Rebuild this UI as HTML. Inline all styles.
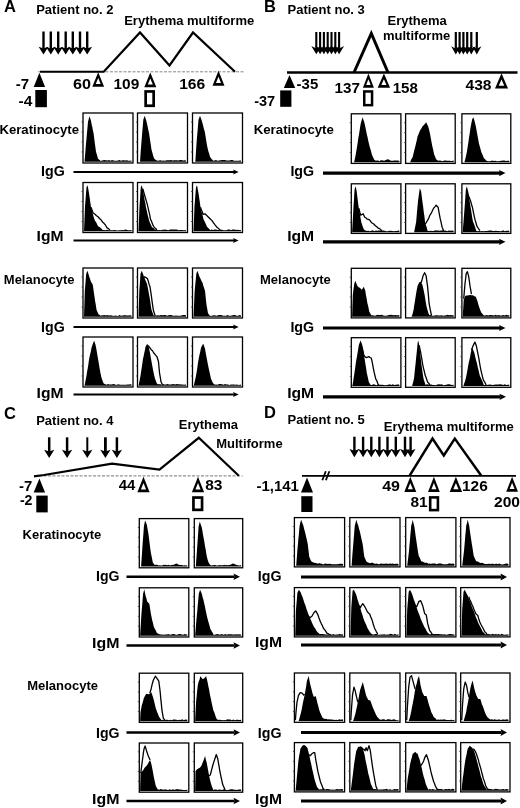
<!DOCTYPE html>
<html lang="en"><head><meta charset="utf-8"><title>Figure</title>
<style>html,body{margin:0;padding:0;background:#fff}svg{display:block}</style></head>
<body>
<svg width="520" height="808" viewBox="0 0 520 808" font-family='&quot;Liberation Sans&quot;, Arial, Helvetica, sans-serif' fill="#000">
<rect x="0" y="0" width="520" height="808" fill="#fff"/>
<text x="4.00" y="12.30" font-size="16.5" font-weight="bold" text-anchor="start">A</text>
<text x="36.20" y="13.80" font-size="13" font-weight="bold" text-anchor="start">Patient no. 2</text>
<text x="124.20" y="24.60" font-size="13" font-weight="bold" text-anchor="start">Erythema multiforme</text>
<line x1="43.50" y1="31.50" x2="43.50" y2="49.50" stroke="#000" stroke-width="2.4"/>
<polygon points="43.50,54.40 38.60,46.80 43.50,48.50 48.40,46.80" fill="#000" stroke="none" stroke-width="0" stroke-linejoin="miter"/>
<line x1="50.80" y1="31.50" x2="50.80" y2="49.50" stroke="#000" stroke-width="2.4"/>
<polygon points="50.80,54.40 45.90,46.80 50.80,48.50 55.70,46.80" fill="#000" stroke="none" stroke-width="0" stroke-linejoin="miter"/>
<line x1="58.20" y1="31.50" x2="58.20" y2="49.50" stroke="#000" stroke-width="2.4"/>
<polygon points="58.20,54.40 53.30,46.80 58.20,48.50 63.10,46.80" fill="#000" stroke="none" stroke-width="0" stroke-linejoin="miter"/>
<line x1="65.70" y1="31.50" x2="65.70" y2="49.50" stroke="#000" stroke-width="2.4"/>
<polygon points="65.70,54.40 60.80,46.80 65.70,48.50 70.60,46.80" fill="#000" stroke="none" stroke-width="0" stroke-linejoin="miter"/>
<line x1="72.80" y1="31.50" x2="72.80" y2="49.50" stroke="#000" stroke-width="2.4"/>
<polygon points="72.80,54.40 67.90,46.80 72.80,48.50 77.70,46.80" fill="#000" stroke="none" stroke-width="0" stroke-linejoin="miter"/>
<line x1="80.00" y1="31.50" x2="80.00" y2="49.50" stroke="#000" stroke-width="2.4"/>
<polygon points="80.00,54.40 75.10,46.80 80.00,48.50 84.90,46.80" fill="#000" stroke="none" stroke-width="0" stroke-linejoin="miter"/>
<line x1="87.20" y1="31.50" x2="87.20" y2="49.50" stroke="#000" stroke-width="2.4"/>
<polygon points="87.20,54.40 82.30,46.80 87.20,48.50 92.10,46.80" fill="#000" stroke="none" stroke-width="0" stroke-linejoin="miter"/>
<line x1="38.00" y1="71.80" x2="245.00" y2="71.80" stroke="#888" stroke-width="1" stroke-dasharray="3 1.5"/>
<polyline points="40.00,71.75 103.75,71.75 140.00,32.50 169.50,65.50 193.00,32.50 235.00,71.75" fill="none" stroke="#000" stroke-width="2.2" stroke-linejoin="miter"/>
<polygon points="39.40,72.80 33.70,87.00 45.10,87.00" fill="#000" stroke="none" stroke-width="0" stroke-linejoin="miter"/>
<rect x="35.30" y="90.00" width="11.60" height="17.20" fill="#000" stroke="none" stroke-width="0"/>
<text x="15.80" y="88.60" font-size="14" font-weight="bold" text-anchor="start" textLength="13.30" lengthAdjust="spacingAndGlyphs">-7</text>
<text x="18.60" y="105.90" font-size="14" font-weight="bold" text-anchor="start" textLength="13.80" lengthAdjust="spacingAndGlyphs">-4</text>
<text x="73.00" y="88.60" font-size="14" font-weight="bold" text-anchor="start" textLength="18.00" lengthAdjust="spacingAndGlyphs">60</text>
<polygon points="98.20,72.30 92.30,86.80 104.10,86.80" fill="#000" stroke="none" stroke-width="0" stroke-linejoin="miter"/>
<polygon points="98.20,78.10 95.76,84.10 100.64,84.10" fill="#fff" stroke="none" stroke-width="0" stroke-linejoin="miter"/>
<text x="113.50" y="88.60" font-size="14" font-weight="bold" text-anchor="start" textLength="25.80" lengthAdjust="spacingAndGlyphs">109</text>
<polygon points="150.30,72.50 144.30,87.30 156.30,87.30" fill="#000" stroke="none" stroke-width="0" stroke-linejoin="miter"/>
<polygon points="150.30,78.42 147.79,84.60 152.81,84.60" fill="#fff" stroke="none" stroke-width="0" stroke-linejoin="miter"/>
<rect x="144.30" y="90.10" width="10.70" height="17.00" fill="#000" stroke="none" stroke-width="0"/>
<rect x="147.00" y="92.80" width="5.30" height="11.60" fill="#fff" stroke="none" stroke-width="0"/>
<text x="179.20" y="88.60" font-size="14" font-weight="bold" text-anchor="start" textLength="26.00" lengthAdjust="spacingAndGlyphs">166</text>
<polygon points="218.50,70.80 212.50,85.80 224.50,85.80" fill="#000" stroke="none" stroke-width="0" stroke-linejoin="miter"/>
<polygon points="218.50,76.80 215.98,83.10 221.02,83.10" fill="#fff" stroke="none" stroke-width="0" stroke-linejoin="miter"/>
<text x="-0.60" y="134.00" font-size="13" font-weight="bold" text-anchor="start" textLength="79.60" lengthAdjust="spacingAndGlyphs">Keratinocyte</text>
<text x="41.00" y="175.60" font-size="15" font-weight="bold" text-anchor="start" textLength="23.70" lengthAdjust="spacingAndGlyphs">IgG</text>
<text x="36.60" y="241.00" font-size="15" font-weight="bold" text-anchor="start" textLength="27.00" lengthAdjust="spacingAndGlyphs">IgM</text>
<text x="3.80" y="283.80" font-size="13" font-weight="bold" text-anchor="start">Melanocyte</text>
<text x="41.00" y="332.00" font-size="15" font-weight="bold" text-anchor="start" textLength="23.70" lengthAdjust="spacingAndGlyphs">IgG</text>
<text x="36.60" y="398.00" font-size="15" font-weight="bold" text-anchor="start" textLength="27.00" lengthAdjust="spacingAndGlyphs">IgM</text>
<line x1="73.50" y1="172.00" x2="234.10" y2="172.00" stroke="#000" stroke-width="2"/>
<polygon points="238.70,172.00 233.10,169.60 234.10,172.00 233.10,174.40" fill="#000" stroke="none" stroke-width="0" stroke-linejoin="miter"/>
<line x1="73.50" y1="240.50" x2="234.10" y2="240.50" stroke="#000" stroke-width="2"/>
<polygon points="238.70,240.50 233.10,238.10 234.10,240.50 233.10,242.90" fill="#000" stroke="none" stroke-width="0" stroke-linejoin="miter"/>
<line x1="73.50" y1="327.00" x2="234.10" y2="327.00" stroke="#000" stroke-width="2"/>
<polygon points="238.70,327.00 233.10,324.60 234.10,327.00 233.10,329.40" fill="#000" stroke="none" stroke-width="0" stroke-linejoin="miter"/>
<line x1="73.50" y1="394.50" x2="234.10" y2="394.50" stroke="#000" stroke-width="2"/>
<polygon points="238.70,394.50 233.10,392.10 234.10,394.50 233.10,396.90" fill="#000" stroke="none" stroke-width="0" stroke-linejoin="miter"/>
<polygon points="84.50,161.80 84.50,161.80 84.88,157.48 85.25,153.15 85.62,148.15 86.00,143.80 86.50,138.73 87.00,132.76 87.50,127.43 88.00,121.80 89.50,116.30 91.00,120.80 91.62,124.24 92.25,126.79 92.88,130.26 93.50,132.80 94.00,136.67 94.50,140.83 95.00,144.61 95.50,148.08 96.00,151.80 97.00,154.97 98.00,158.80 100.00,160.30 100.00,160.78 101.50,160.68 103.00,160.27 104.50,159.95 106.00,160.32 107.50,160.50 109.00,159.92 110.50,160.85 112.00,160.04 113.50,160.61 115.00,160.76 116.50,160.78 118.00,160.59 119.50,160.08 121.00,160.72 122.50,160.32 124.00,160.26 125.50,160.53 127.00,160.35 128.50,160.84 130.00,160.84 131.50,160.40 131.50,161.80" fill="#000" stroke="none" stroke-width="0" stroke-linejoin="miter"/>
<rect x="83.00" y="113.00" width="50.00" height="50.00" fill="none" stroke="#000" stroke-width="1.3"/>
<line x1="81.50" y1="152.00" x2="83.00" y2="152.00" stroke="#333" stroke-width="0.8"/>
<line x1="81.50" y1="142.00" x2="83.00" y2="142.00" stroke="#333" stroke-width="0.8"/>
<line x1="81.50" y1="132.00" x2="83.00" y2="132.00" stroke="#333" stroke-width="0.8"/>
<line x1="81.50" y1="122.00" x2="83.00" y2="122.00" stroke="#333" stroke-width="0.8"/>
<polygon points="140.00,161.80 140.00,161.80 140.32,157.59 140.65,152.62 140.97,148.37 141.30,143.80 141.70,139.19 142.10,134.11 142.50,129.45 142.90,124.80 143.30,119.80 144.70,115.80 146.30,120.80 146.97,123.51 147.65,126.60 148.32,130.06 149.00,132.80 149.62,136.98 150.25,141.27 150.88,145.17 151.50,149.80 152.33,152.40 153.17,155.68 154.00,158.30 156.00,160.30 156.00,159.92 157.50,160.78 159.00,160.48 160.50,160.14 162.00,160.75 163.50,160.41 165.00,160.86 166.50,160.23 168.00,160.14 169.50,160.33 171.00,160.02 172.50,160.59 174.00,160.20 175.50,160.31 177.00,160.32 178.50,160.44 180.00,160.06 181.50,159.96 183.00,160.43 184.50,160.24 186.00,160.40 186.00,161.80" fill="#000" stroke="none" stroke-width="0" stroke-linejoin="miter"/>
<rect x="137.50" y="113.00" width="50.00" height="50.00" fill="none" stroke="#000" stroke-width="1.3"/>
<line x1="136.00" y1="152.00" x2="137.50" y2="152.00" stroke="#333" stroke-width="0.8"/>
<line x1="136.00" y1="142.00" x2="137.50" y2="142.00" stroke="#333" stroke-width="0.8"/>
<line x1="136.00" y1="132.00" x2="137.50" y2="132.00" stroke="#333" stroke-width="0.8"/>
<line x1="136.00" y1="122.00" x2="137.50" y2="122.00" stroke="#333" stroke-width="0.8"/>
<polygon points="195.30,161.80 195.30,161.80 195.60,157.74 195.90,152.60 196.20,148.15 196.50,143.80 196.90,138.51 197.30,133.88 197.70,129.62 198.10,124.71 198.50,119.80 200.00,115.80 201.80,120.80 202.80,124.30 203.80,128.61 204.80,131.80 205.47,135.84 206.15,140.13 206.82,144.18 207.50,147.80 208.33,151.24 209.17,153.53 210.00,156.80 211.50,158.92 213.00,160.30 213.00,160.65 214.50,160.51 216.00,160.03 217.50,160.82 219.00,160.45 220.50,160.35 222.00,160.02 223.50,160.08 225.00,160.04 226.50,160.62 228.00,160.48 229.50,160.54 231.00,160.02 232.50,159.94 234.00,160.75 235.50,160.72 237.00,160.67 238.50,160.67 240.00,160.42 241.00,160.40 241.00,161.80" fill="#000" stroke="none" stroke-width="0" stroke-linejoin="miter"/>
<rect x="192.50" y="113.00" width="50.00" height="50.00" fill="none" stroke="#000" stroke-width="1.3"/>
<line x1="191.00" y1="152.00" x2="192.50" y2="152.00" stroke="#333" stroke-width="0.8"/>
<line x1="191.00" y1="142.00" x2="192.50" y2="142.00" stroke="#333" stroke-width="0.8"/>
<line x1="191.00" y1="132.00" x2="192.50" y2="132.00" stroke="#333" stroke-width="0.8"/>
<line x1="191.00" y1="122.00" x2="192.50" y2="122.00" stroke="#333" stroke-width="0.8"/>
<polygon points="84.00,231.30 84.00,231.30 84.25,224.96 84.50,219.04 84.75,213.05 85.00,206.30 85.38,201.63 85.75,196.93 86.12,191.98 86.50,187.30 87.50,185.30 88.25,188.85 89.00,193.30 89.67,197.78 90.33,202.62 91.00,207.30 92.00,210.85 93.00,214.46 94.00,218.30 95.00,220.75 96.00,221.90 97.00,224.02 98.00,226.30 99.50,227.09 101.00,228.34 102.50,229.80 102.50,230.01 104.00,230.00 105.50,230.30 107.00,229.77 108.50,230.34 110.00,230.33 111.50,230.19 113.00,230.24 114.50,230.06 116.00,230.35 117.50,230.40 119.00,230.25 120.50,230.30 122.00,230.04 123.50,230.37 125.00,229.53 126.50,229.79 128.00,230.25 129.50,230.15 131.50,229.90 131.50,231.30" fill="#000" stroke="none" stroke-width="0" stroke-linejoin="miter"/>
<polyline points="91.00,207.30 93.00,212.80 95.00,214.30 96.50,215.70 98.00,216.80 99.50,218.44 101.00,219.80 102.50,221.93 104.00,223.30 105.50,225.20 107.00,227.80 108.50,228.56 110.00,230.30" fill="none" stroke="#000" stroke-width="1.3" stroke-linejoin="round"/>
<rect x="83.00" y="182.50" width="50.00" height="50.00" fill="none" stroke="#000" stroke-width="1.3"/>
<line x1="81.50" y1="221.50" x2="83.00" y2="221.50" stroke="#333" stroke-width="0.8"/>
<line x1="81.50" y1="211.50" x2="83.00" y2="211.50" stroke="#333" stroke-width="0.8"/>
<line x1="81.50" y1="201.50" x2="83.00" y2="201.50" stroke="#333" stroke-width="0.8"/>
<line x1="81.50" y1="191.50" x2="83.00" y2="191.50" stroke="#333" stroke-width="0.8"/>
<polygon points="138.50,231.30 138.50,231.30 138.75,225.08 139.00,218.82 139.25,212.96 139.50,206.30 139.82,201.95 140.15,196.96 140.47,192.29 140.80,187.30 141.80,185.30 142.65,188.97 143.50,193.30 144.12,197.14 144.75,200.78 145.38,203.35 146.00,207.30 146.75,210.52 147.50,214.15 148.25,217.01 149.00,220.30 150.00,223.11 151.00,224.94 152.00,227.30 153.50,228.07 155.00,229.80 155.00,229.54 156.50,229.70 158.00,230.14 159.50,230.03 161.00,230.23 162.50,229.63 164.00,229.87 165.50,229.62 167.00,230.07 168.50,230.18 170.00,229.59 171.50,229.42 173.00,229.55 174.50,229.59 176.00,229.58 177.50,229.66 179.00,230.17 180.50,229.88 182.00,230.04 183.50,230.37 185.00,230.37 186.00,229.90 186.00,231.30" fill="#000" stroke="none" stroke-width="0" stroke-linejoin="miter"/>
<polyline points="141.00,191.30 143.00,189.30 143.83,192.52 144.67,195.54 145.50,198.30 146.33,201.11 147.17,203.84 148.00,207.30 148.62,210.35 149.25,212.86 149.88,215.81 150.50,219.30 151.50,221.18 152.50,224.10 153.50,226.30 155.25,228.33 157.00,229.80" fill="none" stroke="#000" stroke-width="1.3" stroke-linejoin="round"/>
<rect x="137.50" y="182.50" width="50.00" height="50.00" fill="none" stroke="#000" stroke-width="1.3"/>
<line x1="136.00" y1="221.50" x2="137.50" y2="221.50" stroke="#333" stroke-width="0.8"/>
<line x1="136.00" y1="211.50" x2="137.50" y2="211.50" stroke="#333" stroke-width="0.8"/>
<line x1="136.00" y1="201.50" x2="137.50" y2="201.50" stroke="#333" stroke-width="0.8"/>
<line x1="136.00" y1="191.50" x2="137.50" y2="191.50" stroke="#333" stroke-width="0.8"/>
<polygon points="193.50,231.30 193.50,231.30 193.75,225.32 194.00,219.10 194.25,212.85 194.50,206.30 194.88,201.43 195.25,196.40 195.62,191.71 196.00,187.30 197.00,185.30 197.75,189.32 198.50,193.30 199.17,197.81 199.83,202.33 200.50,207.30 201.25,210.72 202.00,213.14 202.75,215.89 203.50,219.30 204.67,221.52 205.83,224.05 207.00,226.80 208.50,228.32 210.00,229.80 210.00,230.22 211.50,229.61 213.00,230.07 214.50,229.60 216.00,229.43 217.50,230.00 219.00,230.00 220.50,229.45 222.00,229.68 223.50,230.23 225.00,230.27 226.50,230.25 228.00,229.50 229.50,229.59 231.00,230.25 232.50,229.57 234.00,229.42 235.50,229.74 237.00,230.05 238.50,229.85 240.00,230.27 241.00,229.90 241.00,231.30" fill="#000" stroke="none" stroke-width="0" stroke-linejoin="miter"/>
<polyline points="200.50,207.30 201.33,210.12 202.17,211.50 203.00,214.30 205.00,213.80 206.25,214.90 207.50,216.30 209.00,217.77 210.50,219.30 212.00,220.62 213.50,222.80 215.25,225.12 217.00,227.30 218.50,228.43 220.00,230.30" fill="none" stroke="#000" stroke-width="1.3" stroke-linejoin="round"/>
<rect x="192.50" y="182.50" width="50.00" height="50.00" fill="none" stroke="#000" stroke-width="1.3"/>
<line x1="191.00" y1="221.50" x2="192.50" y2="221.50" stroke="#333" stroke-width="0.8"/>
<line x1="191.00" y1="211.50" x2="192.50" y2="211.50" stroke="#333" stroke-width="0.8"/>
<line x1="191.00" y1="201.50" x2="192.50" y2="201.50" stroke="#333" stroke-width="0.8"/>
<line x1="191.00" y1="191.50" x2="192.50" y2="191.50" stroke="#333" stroke-width="0.8"/>
<polygon points="84.00,316.80 84.00,316.80 84.20,309.97 84.40,304.09 84.60,297.55 84.80,290.80 85.27,285.34 85.73,279.73 86.20,273.80 87.50,270.80 88.40,273.71 89.30,276.80 91.00,281.80 92.80,284.80 93.37,289.04 93.93,292.88 94.50,296.80 95.17,301.50 95.83,305.06 96.50,309.80 98.50,314.30 100.00,315.30 100.00,315.55 101.50,315.44 103.00,315.32 104.50,315.00 106.00,315.48 107.50,314.98 109.00,315.40 110.50,315.37 112.00,315.38 113.50,315.88 115.00,315.46 116.50,315.72 118.00,315.90 119.50,315.10 121.00,315.73 122.50,315.43 124.00,315.17 125.50,315.34 127.00,315.57 128.50,315.38 130.00,315.34 131.50,315.40 131.50,316.80" fill="#000" stroke="none" stroke-width="0" stroke-linejoin="miter"/>
<rect x="83.00" y="268.00" width="50.00" height="50.00" fill="none" stroke="#000" stroke-width="1.3"/>
<line x1="81.50" y1="307.00" x2="83.00" y2="307.00" stroke="#333" stroke-width="0.8"/>
<line x1="81.50" y1="297.00" x2="83.00" y2="297.00" stroke="#333" stroke-width="0.8"/>
<line x1="81.50" y1="287.00" x2="83.00" y2="287.00" stroke="#333" stroke-width="0.8"/>
<line x1="81.50" y1="277.00" x2="83.00" y2="277.00" stroke="#333" stroke-width="0.8"/>
<polygon points="138.50,316.80 138.50,316.80 138.70,310.02 138.90,304.19 139.10,297.24 139.30,290.80 139.70,285.38 140.10,279.69 140.50,273.80 141.70,270.80 142.85,273.53 144.00,276.80 145.00,279.13 146.00,281.40 147.00,283.80 147.62,286.79 148.25,289.89 148.88,293.61 149.50,296.80 150.17,301.02 150.83,305.46 151.50,309.80 153.50,315.30 153.50,315.39 155.00,315.21 156.50,315.45 158.00,315.37 159.50,315.42 161.00,314.96 162.50,315.20 164.00,315.02 165.50,314.96 167.00,315.64 168.50,315.34 170.00,314.96 171.50,315.06 173.00,315.76 174.50,315.78 176.00,315.46 177.50,315.83 179.00,315.66 180.50,315.83 182.00,315.23 183.50,315.12 185.00,315.00 186.00,315.40 186.00,316.80" fill="#000" stroke="none" stroke-width="0" stroke-linejoin="miter"/>
<polyline points="142.00,278.80 143.25,278.15 144.50,276.80 146.00,277.58 147.50,278.80 148.33,281.31 149.17,284.49 150.00,286.80 150.67,291.08 151.33,295.67 152.00,300.80 152.75,306.08 153.50,310.80 155.00,315.30" fill="none" stroke="#000" stroke-width="1.3" stroke-linejoin="round"/>
<rect x="137.50" y="268.00" width="50.00" height="50.00" fill="none" stroke="#000" stroke-width="1.3"/>
<line x1="136.00" y1="307.00" x2="137.50" y2="307.00" stroke="#333" stroke-width="0.8"/>
<line x1="136.00" y1="297.00" x2="137.50" y2="297.00" stroke="#333" stroke-width="0.8"/>
<line x1="136.00" y1="287.00" x2="137.50" y2="287.00" stroke="#333" stroke-width="0.8"/>
<line x1="136.00" y1="277.00" x2="137.50" y2="277.00" stroke="#333" stroke-width="0.8"/>
<polygon points="193.50,316.80 193.50,316.80 193.74,311.15 193.98,306.50 194.22,301.21 194.46,295.51 194.70,290.80 195.23,284.80 195.77,279.81 196.30,273.80 197.50,270.80 198.50,273.87 199.50,276.80 200.50,278.78 201.50,280.96 202.50,282.80 203.33,285.77 204.17,288.31 205.00,290.80 205.50,295.24 206.00,300.61 206.50,304.80 207.25,309.00 208.00,313.30 209.50,315.30 209.50,315.46 211.00,315.88 212.50,315.57 214.00,315.28 215.50,315.39 217.00,315.84 218.50,314.91 220.00,315.11 221.50,314.93 223.00,315.80 224.50,315.63 226.00,315.86 227.50,315.12 229.00,315.63 230.50,315.77 232.00,315.48 233.50,314.99 235.00,315.08 236.50,315.64 238.00,315.75 239.50,314.98 241.00,315.40 241.00,316.80" fill="#000" stroke="none" stroke-width="0" stroke-linejoin="miter"/>
<rect x="192.50" y="268.00" width="50.00" height="50.00" fill="none" stroke="#000" stroke-width="1.3"/>
<line x1="191.00" y1="307.00" x2="192.50" y2="307.00" stroke="#333" stroke-width="0.8"/>
<line x1="191.00" y1="297.00" x2="192.50" y2="297.00" stroke="#333" stroke-width="0.8"/>
<line x1="191.00" y1="287.00" x2="192.50" y2="287.00" stroke="#333" stroke-width="0.8"/>
<line x1="191.00" y1="277.00" x2="192.50" y2="277.00" stroke="#333" stroke-width="0.8"/>
<polygon points="84.50,385.80 84.50,385.80 85.50,380.73 86.50,375.80 87.12,371.60 87.75,368.21 88.38,364.24 89.00,359.80 89.62,356.61 90.25,353.87 90.88,351.23 91.50,347.80 93.20,342.80 94.20,340.80 95.50,344.80 96.50,349.86 97.50,355.80 98.17,359.67 98.83,363.50 99.50,367.80 100.50,373.22 101.50,377.80 103.50,383.30 105.00,384.30 105.00,384.04 106.50,384.83 108.00,384.04 109.50,384.45 111.00,384.56 112.50,384.35 114.00,383.97 115.50,384.63 117.00,384.77 118.50,384.37 120.00,384.66 121.50,384.79 123.00,384.74 124.50,384.85 126.00,384.70 127.50,384.59 129.00,384.59 130.50,384.14 131.50,384.40 131.50,385.80" fill="#000" stroke="none" stroke-width="0" stroke-linejoin="miter"/>
<rect x="83.00" y="337.00" width="50.00" height="50.00" fill="none" stroke="#000" stroke-width="1.3"/>
<line x1="81.50" y1="376.00" x2="83.00" y2="376.00" stroke="#333" stroke-width="0.8"/>
<line x1="81.50" y1="366.00" x2="83.00" y2="366.00" stroke="#333" stroke-width="0.8"/>
<line x1="81.50" y1="356.00" x2="83.00" y2="356.00" stroke="#333" stroke-width="0.8"/>
<line x1="81.50" y1="346.00" x2="83.00" y2="346.00" stroke="#333" stroke-width="0.8"/>
<polygon points="138.50,385.80 138.50,385.80 139.50,381.01 140.50,375.80 141.12,371.55 141.75,367.62 142.38,363.20 143.00,358.80 143.62,356.28 144.25,353.05 144.88,350.28 145.50,346.80 147.20,343.80 149.00,347.80 150.00,353.07 151.00,358.80 152.00,364.25 153.00,369.80 154.00,374.61 155.00,378.80 157.00,383.80 158.50,384.30 158.50,384.43 160.00,383.97 161.50,384.79 163.00,384.08 164.50,384.47 166.00,384.40 167.50,384.07 169.00,384.51 170.50,384.39 172.00,384.21 173.50,383.92 175.00,384.56 176.50,384.07 178.00,384.19 179.50,384.26 181.00,384.50 182.50,384.55 184.00,384.85 186.00,384.40 186.00,385.80" fill="#000" stroke="none" stroke-width="0" stroke-linejoin="miter"/>
<polyline points="148.00,345.30 150.00,347.80 151.25,349.67 152.50,350.80 153.75,352.98 155.00,354.30 157.00,356.80 158.50,361.80 159.50,372.80 160.25,377.06 161.00,381.80 162.50,384.80" fill="none" stroke="#000" stroke-width="1.3" stroke-linejoin="round"/>
<rect x="137.50" y="337.00" width="50.00" height="50.00" fill="none" stroke="#000" stroke-width="1.3"/>
<line x1="136.00" y1="376.00" x2="137.50" y2="376.00" stroke="#333" stroke-width="0.8"/>
<line x1="136.00" y1="366.00" x2="137.50" y2="366.00" stroke="#333" stroke-width="0.8"/>
<line x1="136.00" y1="356.00" x2="137.50" y2="356.00" stroke="#333" stroke-width="0.8"/>
<line x1="136.00" y1="346.00" x2="137.50" y2="346.00" stroke="#333" stroke-width="0.8"/>
<polygon points="193.70,385.80 193.70,385.80 194.85,381.04 196.00,375.80 196.62,372.14 197.25,368.22 197.88,363.46 198.50,359.80 199.12,356.43 199.75,353.63 200.38,351.02 201.00,347.80 202.50,344.80 203.30,343.80 205.00,348.80 206.00,354.56 207.00,359.80 208.00,365.01 209.00,369.80 210.00,374.34 211.00,378.80 213.00,383.30 214.50,384.30 214.50,384.74 216.00,384.45 217.50,384.64 219.00,383.94 220.50,383.93 222.00,384.35 223.50,384.66 225.00,383.93 226.50,384.59 228.00,384.54 229.50,384.90 231.00,384.52 232.50,384.43 234.00,384.40 235.50,384.70 237.00,384.40 238.50,384.90 240.00,384.64 241.00,384.40 241.00,385.80" fill="#000" stroke="none" stroke-width="0" stroke-linejoin="miter"/>
<rect x="192.50" y="337.00" width="50.00" height="50.00" fill="none" stroke="#000" stroke-width="1.3"/>
<line x1="191.00" y1="376.00" x2="192.50" y2="376.00" stroke="#333" stroke-width="0.8"/>
<line x1="191.00" y1="366.00" x2="192.50" y2="366.00" stroke="#333" stroke-width="0.8"/>
<line x1="191.00" y1="356.00" x2="192.50" y2="356.00" stroke="#333" stroke-width="0.8"/>
<line x1="191.00" y1="346.00" x2="192.50" y2="346.00" stroke="#333" stroke-width="0.8"/>
<text x="264.00" y="12.30" font-size="16.5" font-weight="bold" text-anchor="start">B</text>
<text x="287.50" y="13.80" font-size="13" font-weight="bold" text-anchor="start">Patient no. 3</text>
<text x="387.50" y="24.60" font-size="13" font-weight="bold" text-anchor="start">Erythema</text>
<text x="383.00" y="40.00" font-size="13" font-weight="bold" text-anchor="start">multiforme</text>
<line x1="316.30" y1="32.00" x2="316.30" y2="49.50" stroke="#000" stroke-width="2.1"/>
<polygon points="316.30,54.30 311.30,46.00 316.30,48.50 321.30,46.00" fill="#000" stroke="none" stroke-width="0" stroke-linejoin="miter"/>
<line x1="320.10" y1="32.00" x2="320.10" y2="49.50" stroke="#000" stroke-width="2.1"/>
<polygon points="320.10,54.30 315.10,46.00 320.10,48.50 325.10,46.00" fill="#000" stroke="none" stroke-width="0" stroke-linejoin="miter"/>
<line x1="323.90" y1="32.00" x2="323.90" y2="49.50" stroke="#000" stroke-width="2.1"/>
<polygon points="323.90,54.30 318.90,46.00 323.90,48.50 328.90,46.00" fill="#000" stroke="none" stroke-width="0" stroke-linejoin="miter"/>
<line x1="327.70" y1="32.00" x2="327.70" y2="49.50" stroke="#000" stroke-width="2.1"/>
<polygon points="327.70,54.30 322.70,46.00 327.70,48.50 332.70,46.00" fill="#000" stroke="none" stroke-width="0" stroke-linejoin="miter"/>
<line x1="331.50" y1="32.00" x2="331.50" y2="49.50" stroke="#000" stroke-width="2.1"/>
<polygon points="331.50,54.30 326.50,46.00 331.50,48.50 336.50,46.00" fill="#000" stroke="none" stroke-width="0" stroke-linejoin="miter"/>
<line x1="335.30" y1="32.00" x2="335.30" y2="49.50" stroke="#000" stroke-width="2.1"/>
<polygon points="335.30,54.30 330.30,46.00 335.30,48.50 340.30,46.00" fill="#000" stroke="none" stroke-width="0" stroke-linejoin="miter"/>
<line x1="339.10" y1="32.00" x2="339.10" y2="49.50" stroke="#000" stroke-width="2.1"/>
<polygon points="339.10,54.30 334.10,46.00 339.10,48.50 344.10,46.00" fill="#000" stroke="none" stroke-width="0" stroke-linejoin="miter"/>
<line x1="455.80" y1="32.00" x2="455.80" y2="49.70" stroke="#000" stroke-width="2.2"/>
<polygon points="455.80,54.50 451.20,46.20 455.80,48.70 460.40,46.20" fill="#000" stroke="none" stroke-width="0" stroke-linejoin="miter"/>
<line x1="459.60" y1="32.00" x2="459.60" y2="49.70" stroke="#000" stroke-width="2.2"/>
<polygon points="459.60,54.50 455.00,46.20 459.60,48.70 464.20,46.20" fill="#000" stroke="none" stroke-width="0" stroke-linejoin="miter"/>
<line x1="463.40" y1="32.00" x2="463.40" y2="49.70" stroke="#000" stroke-width="2.2"/>
<polygon points="463.40,54.50 458.80,46.20 463.40,48.70 468.00,46.20" fill="#000" stroke="none" stroke-width="0" stroke-linejoin="miter"/>
<line x1="467.20" y1="32.00" x2="467.20" y2="49.70" stroke="#000" stroke-width="2.2"/>
<polygon points="467.20,54.50 462.60,46.20 467.20,48.70 471.80,46.20" fill="#000" stroke="none" stroke-width="0" stroke-linejoin="miter"/>
<line x1="471.30" y1="32.00" x2="471.30" y2="49.70" stroke="#000" stroke-width="2.2"/>
<polygon points="471.30,54.50 466.70,46.20 471.30,48.70 475.90,46.20" fill="#000" stroke="none" stroke-width="0" stroke-linejoin="miter"/>
<line x1="476.80" y1="32.00" x2="476.80" y2="49.70" stroke="#000" stroke-width="2.2"/>
<polygon points="476.80,54.50 472.20,46.20 476.80,48.70 481.40,46.20" fill="#000" stroke="none" stroke-width="0" stroke-linejoin="miter"/>
<line x1="287.00" y1="72.40" x2="517.50" y2="72.40" stroke="#000" stroke-width="2.5"/>
<polyline points="354.00,72.50 371.30,33.50 388.00,72.50" fill="none" stroke="#000" stroke-width="3" stroke-linejoin="miter"/>
<polygon points="289.50,75.00 283.80,88.00 295.20,88.00" fill="#000" stroke="none" stroke-width="0" stroke-linejoin="miter"/>
<rect x="280.20" y="90.40" width="11.20" height="16.40" fill="#000" stroke="none" stroke-width="0"/>
<text x="296.60" y="89.30" font-size="14" font-weight="bold" text-anchor="start" textLength="21.60" lengthAdjust="spacingAndGlyphs">-35</text>
<text x="254.20" y="106.40" font-size="14" font-weight="bold" text-anchor="start" textLength="21.00" lengthAdjust="spacingAndGlyphs">-37</text>
<text x="334.50" y="92.70" font-size="14" font-weight="bold" text-anchor="start" textLength="25.40" lengthAdjust="spacingAndGlyphs">137</text>
<polygon points="368.40,73.60 362.90,87.80 373.90,87.80" fill="#000" stroke="none" stroke-width="0" stroke-linejoin="miter"/>
<polygon points="368.40,79.28 366.15,85.10 370.65,85.10" fill="#fff" stroke="none" stroke-width="0" stroke-linejoin="miter"/>
<polygon points="383.90,73.60 377.70,87.80 390.10,87.80" fill="#000" stroke="none" stroke-width="0" stroke-linejoin="miter"/>
<polygon points="383.90,79.28 381.36,85.10 386.44,85.10" fill="#fff" stroke="none" stroke-width="0" stroke-linejoin="miter"/>
<rect x="363.00" y="90.20" width="10.30" height="16.20" fill="#000" stroke="none" stroke-width="0"/>
<rect x="365.50" y="92.70" width="5.30" height="11.20" fill="#fff" stroke="none" stroke-width="0"/>
<text x="392.70" y="92.70" font-size="14" font-weight="bold" text-anchor="start" textLength="25.20" lengthAdjust="spacingAndGlyphs">158</text>
<text x="465.50" y="89.50" font-size="14" font-weight="bold" text-anchor="start" textLength="26.00" lengthAdjust="spacingAndGlyphs">438</text>
<polygon points="501.50,73.30 495.00,88.50 508.00,88.50" fill="#000" stroke="none" stroke-width="0" stroke-linejoin="miter"/>
<polygon points="501.50,79.38 498.75,85.80 504.25,85.80" fill="#fff" stroke="none" stroke-width="0" stroke-linejoin="miter"/>
<text x="253.70" y="134.30" font-size="13" font-weight="bold" text-anchor="start" textLength="80.20" lengthAdjust="spacingAndGlyphs">Keratinocyte</text>
<text x="290.40" y="175.60" font-size="15" font-weight="bold" text-anchor="start" textLength="23.70" lengthAdjust="spacingAndGlyphs">IgG</text>
<text x="287.20" y="240.80" font-size="15" font-weight="bold" text-anchor="start" textLength="27.00" lengthAdjust="spacingAndGlyphs">IgM</text>
<text x="260.00" y="283.80" font-size="13" font-weight="bold" text-anchor="start">Melanocyte</text>
<text x="290.40" y="332.00" font-size="15" font-weight="bold" text-anchor="start" textLength="23.70" lengthAdjust="spacingAndGlyphs">IgG</text>
<text x="287.20" y="398.00" font-size="15" font-weight="bold" text-anchor="start" textLength="27.00" lengthAdjust="spacingAndGlyphs">IgM</text>
<line x1="323.00" y1="173.10" x2="500.00" y2="173.10" stroke="#000" stroke-width="3.2"/>
<polygon points="505.50,173.10 499.00,170.00 500.00,173.10 499.00,176.20" fill="#000" stroke="none" stroke-width="0" stroke-linejoin="miter"/>
<line x1="323.00" y1="241.80" x2="500.00" y2="241.80" stroke="#000" stroke-width="3.2"/>
<polygon points="505.50,241.80 499.00,238.70 500.00,241.80 499.00,244.90" fill="#000" stroke="none" stroke-width="0" stroke-linejoin="miter"/>
<line x1="323.00" y1="328.00" x2="500.00" y2="328.00" stroke="#000" stroke-width="3.2"/>
<polygon points="505.50,328.00 499.00,324.90 500.00,328.00 499.00,331.10" fill="#000" stroke="none" stroke-width="0" stroke-linejoin="miter"/>
<line x1="323.00" y1="396.80" x2="500.50" y2="396.80" stroke="#000" stroke-width="3.2"/>
<polygon points="506.00,396.80 499.50,393.70 500.50,396.80 499.50,399.90" fill="#000" stroke="none" stroke-width="0" stroke-linejoin="miter"/>
<polygon points="354.10,162.20 354.10,162.20 354.95,158.61 355.80,154.20 356.43,150.30 357.05,146.66 357.68,142.68 358.30,138.20 358.93,134.65 359.55,130.97 360.18,126.86 360.80,123.20 361.65,120.17 362.50,117.20 364.30,122.20 364.93,124.95 365.55,128.04 366.18,130.98 366.80,134.20 367.63,137.49 368.47,141.64 369.30,145.20 370.13,148.37 370.97,150.72 371.80,154.20 373.05,157.30 374.30,159.70 375.80,160.70 377.01,160.48 378.23,160.56 379.44,161.16 380.66,160.36 381.87,160.31 383.09,160.57 384.30,160.70 385.63,159.97 386.97,159.39 388.30,159.20 389.80,160.31 391.30,160.70 391.30,160.78 392.80,160.80 394.30,160.47 395.80,160.50 397.30,160.47 398.80,160.72 399.40,160.80 399.40,162.20" fill="#000" stroke="none" stroke-width="0" stroke-linejoin="miter"/>
<rect x="351.30" y="113.80" width="49.60" height="49.60" fill="none" stroke="#000" stroke-width="1.3"/>
<line x1="349.80" y1="152.48" x2="351.30" y2="152.48" stroke="#333" stroke-width="0.8"/>
<line x1="349.80" y1="142.56" x2="351.30" y2="142.56" stroke="#333" stroke-width="0.8"/>
<line x1="349.80" y1="132.64" x2="351.30" y2="132.64" stroke="#333" stroke-width="0.8"/>
<line x1="349.80" y1="122.72" x2="351.30" y2="122.72" stroke="#333" stroke-width="0.8"/>
<polygon points="410.10,162.20 410.10,162.20 411.35,159.31 412.60,157.20 413.43,153.68 414.27,150.34 415.10,147.20 415.93,143.80 416.77,140.34 417.60,136.20 418.43,134.57 419.27,132.34 420.10,130.20 421.35,128.60 422.60,126.20 424.60,124.20 426.10,122.20 428.10,126.20 429.10,129.86 430.10,134.20 431.10,139.64 432.10,145.20 433.10,149.57 434.10,154.20 436.10,159.20 438.10,160.70 438.10,160.67 439.60,160.62 441.10,160.81 442.60,161.30 444.10,160.50 445.60,160.55 447.10,160.80 448.60,160.76 450.10,160.64 451.60,161.23 453.10,160.56 453.70,160.80 453.70,162.20" fill="#000" stroke="none" stroke-width="0" stroke-linejoin="miter"/>
<rect x="405.60" y="113.80" width="49.60" height="49.60" fill="none" stroke="#000" stroke-width="1.3"/>
<line x1="404.10" y1="152.48" x2="405.60" y2="152.48" stroke="#333" stroke-width="0.8"/>
<line x1="404.10" y1="142.56" x2="405.60" y2="142.56" stroke="#333" stroke-width="0.8"/>
<line x1="404.10" y1="132.64" x2="405.60" y2="132.64" stroke="#333" stroke-width="0.8"/>
<line x1="404.10" y1="122.72" x2="405.60" y2="122.72" stroke="#333" stroke-width="0.8"/>
<polygon points="464.40,162.20 464.40,162.20 465.40,158.45 466.40,154.20 467.07,150.63 467.73,146.43 468.40,142.20 469.07,137.30 469.73,133.16 470.40,128.20 471.30,123.46 472.20,119.20 473.40,117.20 474.90,122.20 475.90,126.72 476.90,132.20 477.90,137.71 478.90,143.20 479.73,146.32 480.57,149.22 481.40,152.20 482.23,154.02 483.07,155.93 483.90,158.20 485.15,159.33 486.40,160.70 486.40,160.66 487.90,161.22 489.40,161.15 490.90,161.05 492.40,160.56 493.90,161.00 495.40,160.73 496.90,161.29 498.40,161.24 499.90,161.03 501.40,160.63 502.90,160.61 504.40,160.62 505.90,161.01 507.40,160.78 509.30,160.80 509.30,162.20" fill="#000" stroke="none" stroke-width="0" stroke-linejoin="miter"/>
<rect x="461.90" y="113.80" width="48.90" height="49.60" fill="none" stroke="#000" stroke-width="1.3"/>
<line x1="460.40" y1="152.48" x2="461.90" y2="152.48" stroke="#333" stroke-width="0.8"/>
<line x1="460.40" y1="142.56" x2="461.90" y2="142.56" stroke="#333" stroke-width="0.8"/>
<line x1="460.40" y1="132.64" x2="461.90" y2="132.64" stroke="#333" stroke-width="0.8"/>
<line x1="460.40" y1="122.72" x2="461.90" y2="122.72" stroke="#333" stroke-width="0.8"/>
<polygon points="352.10,232.20 352.10,232.20 352.40,226.74 352.70,221.23 353.00,216.08 353.30,210.20 353.62,204.56 353.95,200.00 354.28,193.97 354.60,189.20 355.60,186.20 356.20,188.76 356.80,192.20 357.47,198.02 358.13,202.91 358.80,208.20 359.43,211.38 360.05,214.73 360.68,218.75 361.30,222.20 362.13,224.76 362.97,227.16 363.80,229.20 365.30,230.70 365.30,230.35 366.80,231.09 368.30,230.72 369.80,231.16 371.30,230.78 372.80,230.35 374.30,231.17 375.80,230.48 377.30,230.79 378.80,230.41 380.30,230.60 381.80,231.07 383.30,230.40 384.80,230.81 386.30,231.28 387.80,231.30 389.30,230.81 390.80,230.85 392.30,231.00 393.80,231.16 395.30,230.96 396.80,230.98 398.30,230.46 399.40,230.80 399.40,232.20" fill="#000" stroke="none" stroke-width="0" stroke-linejoin="miter"/>
<polyline points="358.80,208.20 359.80,212.20 360.80,215.20 363.10,213.70 364.80,217.20 366.05,217.95 367.30,219.20 368.55,219.36 369.80,220.20 371.05,222.08 372.30,223.20 373.80,224.02 375.30,225.70 376.80,226.74 378.30,228.20 379.63,228.63 380.97,230.08 382.30,230.70" fill="none" stroke="#000" stroke-width="1.3" stroke-linejoin="round"/>
<rect x="351.30" y="183.80" width="49.60" height="49.60" fill="none" stroke="#000" stroke-width="1.3"/>
<line x1="349.80" y1="222.48" x2="351.30" y2="222.48" stroke="#333" stroke-width="0.8"/>
<line x1="349.80" y1="212.56" x2="351.30" y2="212.56" stroke="#333" stroke-width="0.8"/>
<line x1="349.80" y1="202.64" x2="351.30" y2="202.64" stroke="#333" stroke-width="0.8"/>
<line x1="349.80" y1="192.72" x2="351.30" y2="192.72" stroke="#333" stroke-width="0.8"/>
<polygon points="414.10,232.20 414.10,232.20 415.10,227.33 416.10,222.20 416.60,216.81 417.10,210.70 417.60,205.61 418.10,200.20 418.67,196.34 419.23,192.27 419.80,188.20 421.10,191.20 421.77,196.42 422.43,201.65 423.10,206.20 423.77,211.93 424.43,216.53 425.10,222.20 425.93,225.25 426.77,227.43 427.60,230.70 427.60,231.05 429.10,231.03 430.60,230.79 432.10,231.11 433.60,230.93 435.10,230.34 436.60,230.42 438.10,230.49 439.60,230.67 441.10,230.39 442.60,230.36 444.10,230.75 445.60,230.58 447.10,231.25 448.60,230.57 450.10,230.85 451.60,230.55 453.10,230.66 453.70,230.80 453.70,232.20" fill="#000" stroke="none" stroke-width="0" stroke-linejoin="miter"/>
<polyline points="425.10,224.20 426.35,222.41 427.60,220.20 428.60,218.65 429.60,215.77 430.60,214.20 431.60,212.57 432.60,210.23 433.60,208.20 434.85,206.86 436.10,205.20 438.10,207.20 439.10,212.90 440.10,218.20 441.10,222.46 442.10,227.20 443.90,231.20" fill="none" stroke="#000" stroke-width="1.3" stroke-linejoin="round"/>
<rect x="405.60" y="183.80" width="49.60" height="49.60" fill="none" stroke="#000" stroke-width="1.3"/>
<line x1="404.10" y1="222.48" x2="405.60" y2="222.48" stroke="#333" stroke-width="0.8"/>
<line x1="404.10" y1="212.56" x2="405.60" y2="212.56" stroke="#333" stroke-width="0.8"/>
<line x1="404.10" y1="202.64" x2="405.60" y2="202.64" stroke="#333" stroke-width="0.8"/>
<line x1="404.10" y1="192.72" x2="405.60" y2="192.72" stroke="#333" stroke-width="0.8"/>
<polygon points="462.70,232.20 462.70,232.20 463.12,226.22 463.55,221.44 463.97,215.54 464.40,210.20 464.77,205.15 465.15,199.64 465.52,194.56 465.90,189.20 466.90,186.20 467.65,189.53 468.40,192.20 469.07,197.21 469.73,201.83 470.40,206.20 471.02,209.54 471.65,213.70 472.27,217.73 472.90,221.20 474.00,223.96 475.10,227.04 476.20,230.70 476.20,230.85 477.70,231.16 479.20,231.11 480.70,231.21 482.20,230.96 483.70,231.21 485.20,231.06 486.70,231.04 488.20,230.73 489.70,230.41 491.20,230.55 492.70,230.89 494.20,230.89 495.70,230.78 497.20,230.92 498.70,230.96 500.20,231.24 501.70,231.02 503.20,230.33 504.70,231.17 506.20,230.80 507.70,230.67 509.30,230.80 509.30,232.20" fill="#000" stroke="none" stroke-width="0" stroke-linejoin="miter"/>
<polyline points="467.90,194.20 469.90,199.20 470.73,201.50 471.57,204.82 472.40,207.20 473.40,212.43 474.40,217.20 475.23,220.45 476.07,223.30 476.90,226.20 478.40,228.50 479.90,230.70" fill="none" stroke="#000" stroke-width="1.3" stroke-linejoin="round"/>
<rect x="461.90" y="183.80" width="48.90" height="49.60" fill="none" stroke="#000" stroke-width="1.3"/>
<line x1="460.40" y1="222.48" x2="461.90" y2="222.48" stroke="#333" stroke-width="0.8"/>
<line x1="460.40" y1="212.56" x2="461.90" y2="212.56" stroke="#333" stroke-width="0.8"/>
<line x1="460.40" y1="202.64" x2="461.90" y2="202.64" stroke="#333" stroke-width="0.8"/>
<line x1="460.40" y1="192.72" x2="461.90" y2="192.72" stroke="#333" stroke-width="0.8"/>
<polygon points="352.10,316.70 352.10,316.70 352.33,308.91 352.57,301.68 352.80,294.70 353.55,288.83 354.30,283.70 355.30,280.70 357.30,285.70 358.55,287.18 359.80,287.70 361.80,289.70 363.80,286.70 365.30,290.70 365.97,295.17 366.63,298.49 367.30,302.70 368.30,306.80 369.30,311.70 371.30,315.20 371.30,315.33 372.80,315.21 374.30,315.80 375.80,315.41 377.30,314.87 378.80,314.97 380.30,314.94 381.80,314.83 383.30,315.55 384.80,315.69 386.30,315.65 387.80,315.28 389.30,315.12 390.80,314.86 392.30,315.08 393.80,315.15 395.30,315.04 396.80,315.34 398.30,315.25 399.40,315.30 399.40,316.70" fill="#000" stroke="none" stroke-width="0" stroke-linejoin="miter"/>
<rect x="351.30" y="268.30" width="49.60" height="49.60" fill="none" stroke="#000" stroke-width="1.3"/>
<line x1="349.80" y1="306.98" x2="351.30" y2="306.98" stroke="#333" stroke-width="0.8"/>
<line x1="349.80" y1="297.06" x2="351.30" y2="297.06" stroke="#333" stroke-width="0.8"/>
<line x1="349.80" y1="287.14" x2="351.30" y2="287.14" stroke="#333" stroke-width="0.8"/>
<line x1="349.80" y1="277.22" x2="351.30" y2="277.22" stroke="#333" stroke-width="0.8"/>
<polygon points="411.60,316.70 411.60,316.70 412.60,313.66 413.60,309.70 414.27,305.08 414.93,301.30 415.60,296.70 416.60,290.78 417.60,285.70 419.10,282.70 420.40,281.70 422.40,284.70 423.50,289.55 424.60,294.70 425.27,298.90 425.93,303.07 426.60,306.70 427.60,310.45 428.60,313.70 429.60,315.20 429.60,315.16 431.10,315.10 432.60,315.69 434.10,315.73 435.60,315.28 437.10,315.22 438.60,315.41 440.10,315.58 441.60,315.20 443.10,315.79 444.60,315.50 446.10,315.34 447.60,314.84 449.10,315.16 450.60,314.92 452.10,315.32 453.70,315.30 453.70,316.70" fill="#000" stroke="none" stroke-width="0" stroke-linejoin="miter"/>
<polyline points="419.10,283.70 421.10,282.70 422.10,279.47 423.10,275.70 424.60,272.70 426.10,275.70 426.85,281.45 427.60,286.70 428.10,291.91 428.60,297.83 429.10,303.70 430.25,309.64 431.40,315.20" fill="none" stroke="#000" stroke-width="1.3" stroke-linejoin="round"/>
<rect x="405.60" y="268.30" width="49.60" height="49.60" fill="none" stroke="#000" stroke-width="1.3"/>
<line x1="404.10" y1="306.98" x2="405.60" y2="306.98" stroke="#333" stroke-width="0.8"/>
<line x1="404.10" y1="297.06" x2="405.60" y2="297.06" stroke="#333" stroke-width="0.8"/>
<line x1="404.10" y1="287.14" x2="405.60" y2="287.14" stroke="#333" stroke-width="0.8"/>
<line x1="404.10" y1="277.22" x2="405.60" y2="277.22" stroke="#333" stroke-width="0.8"/>
<polygon points="462.70,316.70 462.70,316.70 463.20,308.68 463.70,299.70 465.40,295.70 467.15,295.45 468.90,295.20 470.23,295.03 471.57,295.28 472.90,295.20 474.40,296.19 475.90,296.70 476.73,299.20 477.57,301.61 478.40,304.70 479.40,307.64 480.40,310.50 481.40,312.70 483.70,315.20 483.70,315.46 485.20,315.38 486.70,315.12 488.20,315.60 489.70,315.00 491.20,315.06 492.70,315.30 494.20,315.59 495.70,314.83 497.20,315.49 498.70,314.98 500.20,315.57 501.70,315.58 503.20,315.04 504.70,315.51 506.20,314.85 507.70,315.30 509.30,315.30 509.30,316.70" fill="#000" stroke="none" stroke-width="0" stroke-linejoin="miter"/>
<polyline points="463.70,298.70 464.10,294.35 464.50,289.64 464.90,284.70 465.55,279.28 466.20,273.70 467.40,271.70 468.70,276.70 469.40,281.53 470.10,286.70 470.75,290.00 471.40,294.20" fill="none" stroke="#000" stroke-width="1.3" stroke-linejoin="round"/>
<rect x="461.90" y="268.30" width="48.90" height="49.60" fill="none" stroke="#000" stroke-width="1.3"/>
<line x1="460.40" y1="306.98" x2="461.90" y2="306.98" stroke="#333" stroke-width="0.8"/>
<line x1="460.40" y1="297.06" x2="461.90" y2="297.06" stroke="#333" stroke-width="0.8"/>
<line x1="460.40" y1="287.14" x2="461.90" y2="287.14" stroke="#333" stroke-width="0.8"/>
<line x1="460.40" y1="277.22" x2="461.90" y2="277.22" stroke="#333" stroke-width="0.8"/>
<polygon points="352.30,386.10 352.30,386.10 353.05,381.95 353.80,377.10 354.43,372.96 355.05,368.89 355.68,363.88 356.30,360.10 356.93,356.71 357.55,353.05 358.18,349.29 358.80,345.10 360.60,340.60 362.30,345.10 362.97,349.21 363.63,352.70 364.30,357.10 364.93,360.72 365.55,364.87 366.18,368.60 366.80,373.10 367.80,377.17 368.80,382.10 370.30,384.60 370.30,384.87 371.80,385.01 373.30,384.26 374.80,384.45 376.30,385.17 377.80,384.54 379.30,384.82 380.80,384.83 382.30,384.87 383.80,385.03 385.30,385.20 386.80,384.92 388.30,384.85 389.80,384.24 391.30,385.08 392.80,384.24 394.30,384.99 395.80,384.84 397.30,384.38 398.80,384.38 399.40,384.70 399.40,386.10" fill="#000" stroke="none" stroke-width="0" stroke-linejoin="miter"/>
<polyline points="362.10,347.10 362.95,351.17 363.80,355.10 365.05,356.80 366.30,357.60 367.55,357.13 368.80,356.60 370.05,357.48 371.30,358.10 372.30,362.68 373.30,368.10 374.13,372.07 374.97,375.57 375.80,379.10 376.80,380.70 377.80,383.57 378.80,385.10" fill="none" stroke="#000" stroke-width="1.3" stroke-linejoin="round"/>
<rect x="351.30" y="337.70" width="49.60" height="49.60" fill="none" stroke="#000" stroke-width="1.3"/>
<line x1="349.80" y1="376.38" x2="351.30" y2="376.38" stroke="#333" stroke-width="0.8"/>
<line x1="349.80" y1="366.46" x2="351.30" y2="366.46" stroke="#333" stroke-width="0.8"/>
<line x1="349.80" y1="356.54" x2="351.30" y2="356.54" stroke="#333" stroke-width="0.8"/>
<line x1="349.80" y1="346.62" x2="351.30" y2="346.62" stroke="#333" stroke-width="0.8"/>
<polygon points="412.10,386.10 412.10,386.10 413.10,382.19 414.10,378.10 414.60,372.79 415.10,367.83 415.60,363.56 416.10,358.10 416.60,353.57 417.10,348.54 417.60,343.10 418.40,340.60 419.60,348.10 420.10,352.18 420.60,357.34 421.10,361.35 421.60,366.10 422.27,370.03 422.93,374.93 423.60,379.10 425.40,384.60 425.40,384.93 426.90,384.24 428.40,384.58 429.90,384.94 431.40,384.48 432.90,384.88 434.40,384.92 435.90,385.20 437.40,384.44 438.90,384.28 440.40,384.57 441.90,384.26 443.40,385.18 444.90,384.97 446.40,384.72 447.90,384.24 449.40,384.25 450.90,384.81 452.40,384.95 453.70,384.70 453.70,386.10" fill="#000" stroke="none" stroke-width="0" stroke-linejoin="miter"/>
<polyline points="419.10,345.10 419.85,348.67 420.60,352.10 421.27,356.11 421.93,359.67 422.60,364.10 423.43,368.08 424.27,371.13 425.10,375.10 425.93,377.19 426.77,379.44 427.60,382.10 428.85,383.33 430.10,385.10" fill="none" stroke="#000" stroke-width="1.3" stroke-linejoin="round"/>
<rect x="405.60" y="337.70" width="49.60" height="49.60" fill="none" stroke="#000" stroke-width="1.3"/>
<line x1="404.10" y1="376.38" x2="405.60" y2="376.38" stroke="#333" stroke-width="0.8"/>
<line x1="404.10" y1="366.46" x2="405.60" y2="366.46" stroke="#333" stroke-width="0.8"/>
<line x1="404.10" y1="356.54" x2="405.60" y2="356.54" stroke="#333" stroke-width="0.8"/>
<line x1="404.10" y1="346.62" x2="405.60" y2="346.62" stroke="#333" stroke-width="0.8"/>
<polygon points="463.40,386.10 463.40,386.10 464.23,383.33 465.07,380.94 465.90,378.10 466.65,374.28 467.40,370.24 468.15,365.82 468.90,362.10 469.52,359.52 470.15,356.40 470.77,352.85 471.40,350.10 472.40,348.10 474.40,353.10 475.23,356.69 476.07,360.20 476.90,363.10 477.65,366.82 478.40,369.55 479.15,373.02 479.90,376.10 480.85,377.74 481.80,379.97 482.75,381.99 483.70,384.60 483.70,384.94 485.20,385.12 486.70,385.10 488.20,384.70 489.70,384.49 491.20,384.75 492.70,384.97 494.20,384.78 495.70,384.58 497.20,384.53 498.70,384.45 500.20,384.35 501.70,384.54 503.20,385.08 504.70,384.36 506.20,384.91 507.70,384.63 509.30,384.70 509.30,386.10" fill="#000" stroke="none" stroke-width="0" stroke-linejoin="miter"/>
<polyline points="471.40,350.10 473.40,345.10 474.90,342.10 476.40,346.10 477.40,351.23 478.40,356.10 479.02,359.36 479.65,363.40 480.27,366.85 480.90,370.10 481.73,373.69 482.57,377.11 483.40,380.10 484.80,382.22 486.20,385.10" fill="none" stroke="#000" stroke-width="1.3" stroke-linejoin="round"/>
<rect x="461.90" y="337.70" width="48.90" height="49.60" fill="none" stroke="#000" stroke-width="1.3"/>
<line x1="460.40" y1="376.38" x2="461.90" y2="376.38" stroke="#333" stroke-width="0.8"/>
<line x1="460.40" y1="366.46" x2="461.90" y2="366.46" stroke="#333" stroke-width="0.8"/>
<line x1="460.40" y1="356.54" x2="461.90" y2="356.54" stroke="#333" stroke-width="0.8"/>
<line x1="460.40" y1="346.62" x2="461.90" y2="346.62" stroke="#333" stroke-width="0.8"/>
<text x="4.00" y="418.60" font-size="16.5" font-weight="bold" text-anchor="start">C</text>
<text x="36.20" y="425.00" font-size="13" font-weight="bold" text-anchor="start">Patient no. 4</text>
<text x="178.80" y="428.80" font-size="13" font-weight="bold" text-anchor="start">Erythema</text>
<text x="216.20" y="447.50" font-size="13" font-weight="bold" text-anchor="start">Multiforme</text>
<line x1="49.20" y1="437.30" x2="49.20" y2="452.60" stroke="#000" stroke-width="2.5"/>
<polygon points="49.20,458.00 44.10,449.80 49.20,451.60 54.30,449.80" fill="#000" stroke="none" stroke-width="0" stroke-linejoin="miter"/>
<line x1="67.10" y1="437.30" x2="67.10" y2="452.60" stroke="#000" stroke-width="2.5"/>
<polygon points="67.10,458.00 62.00,449.80 67.10,451.60 72.20,449.80" fill="#000" stroke="none" stroke-width="0" stroke-linejoin="miter"/>
<line x1="87.30" y1="437.30" x2="87.30" y2="452.60" stroke="#000" stroke-width="2.0"/>
<polygon points="87.30,458.00 82.20,449.80 87.30,451.60 92.40,449.80" fill="#000" stroke="none" stroke-width="0" stroke-linejoin="miter"/>
<line x1="105.40" y1="437.30" x2="105.40" y2="452.60" stroke="#000" stroke-width="2.8000000000000003"/>
<polygon points="105.40,458.00 100.30,449.80 105.40,451.60 110.50,449.80" fill="#000" stroke="none" stroke-width="0" stroke-linejoin="miter"/>
<line x1="116.90" y1="437.30" x2="116.90" y2="452.60" stroke="#000" stroke-width="2.5"/>
<polygon points="116.90,458.00 111.80,449.80 116.90,451.60 122.00,449.80" fill="#000" stroke="none" stroke-width="0" stroke-linejoin="miter"/>
<line x1="34.50" y1="475.90" x2="242.50" y2="475.90" stroke="#777" stroke-width="1" stroke-dasharray="3 1.5"/>
<polyline points="34.00,476.30 44.00,475.00 112.00,463.60 159.50,469.70 198.80,437.80 238.80,475.80" fill="none" stroke="#000" stroke-width="2.2" stroke-linejoin="miter"/>
<polygon points="39.40,478.60 33.70,492.60 45.10,492.60" fill="#000" stroke="none" stroke-width="0" stroke-linejoin="miter"/>
<rect x="36.30" y="495.60" width="11.40" height="16.80" fill="#000" stroke="none" stroke-width="0"/>
<text x="19.00" y="491.00" font-size="14" font-weight="bold" text-anchor="start" textLength="13.20" lengthAdjust="spacingAndGlyphs">-7</text>
<text x="19.90" y="505.40" font-size="14" font-weight="bold" text-anchor="start" textLength="12.60" lengthAdjust="spacingAndGlyphs">-2</text>
<text x="118.80" y="490.40" font-size="14" font-weight="bold" text-anchor="start" textLength="16.60" lengthAdjust="spacingAndGlyphs">44</text>
<polygon points="143.50,476.80 137.40,492.20 149.60,492.20" fill="#000" stroke="none" stroke-width="0" stroke-linejoin="miter"/>
<polygon points="143.50,482.96 140.91,489.50 146.09,489.50" fill="#fff" stroke="none" stroke-width="0" stroke-linejoin="miter"/>
<polygon points="198.00,476.80 191.90,492.20 204.10,492.20" fill="#000" stroke="none" stroke-width="0" stroke-linejoin="miter"/>
<polygon points="198.00,482.96 195.41,489.50 200.59,489.50" fill="#fff" stroke="none" stroke-width="0" stroke-linejoin="miter"/>
<text x="205.20" y="490.40" font-size="14" font-weight="bold" text-anchor="start" textLength="17.30" lengthAdjust="spacingAndGlyphs">83</text>
<rect x="192.10" y="496.20" width="11.30" height="15.00" fill="#000" stroke="none" stroke-width="0"/>
<rect x="194.80" y="498.90" width="5.90" height="9.60" fill="#fff" stroke="none" stroke-width="0"/>
<text x="22.60" y="538.80" font-size="13" font-weight="bold" text-anchor="start">Keratinocyte</text>
<text x="96.00" y="581.20" font-size="15" font-weight="bold" text-anchor="start" textLength="23.50" lengthAdjust="spacingAndGlyphs">IgG</text>
<text x="92.10" y="648.00" font-size="15" font-weight="bold" text-anchor="start" textLength="27.40" lengthAdjust="spacingAndGlyphs">IgM</text>
<text x="27.20" y="689.50" font-size="13" font-weight="bold" text-anchor="start">Melanocyte</text>
<text x="96.00" y="738.00" font-size="15" font-weight="bold" text-anchor="start" textLength="23.50" lengthAdjust="spacingAndGlyphs">IgG</text>
<text x="92.10" y="804.20" font-size="15" font-weight="bold" text-anchor="start" textLength="27.40" lengthAdjust="spacingAndGlyphs">IgM</text>
<line x1="126.50" y1="576.70" x2="234.50" y2="576.70" stroke="#000" stroke-width="2.5"/>
<polygon points="240.00,576.70 233.50,573.50 234.50,576.70 233.50,579.90" fill="#000" stroke="none" stroke-width="0" stroke-linejoin="miter"/>
<line x1="126.50" y1="645.50" x2="234.50" y2="645.50" stroke="#000" stroke-width="2.5"/>
<polygon points="240.00,645.50 233.50,642.30 234.50,645.50 233.50,648.70" fill="#000" stroke="none" stroke-width="0" stroke-linejoin="miter"/>
<line x1="126.50" y1="732.50" x2="234.50" y2="732.50" stroke="#000" stroke-width="2.5"/>
<polygon points="240.00,732.50 233.50,729.30 234.50,732.50 233.50,735.70" fill="#000" stroke="none" stroke-width="0" stroke-linejoin="miter"/>
<line x1="126.50" y1="801.00" x2="234.50" y2="801.00" stroke="#000" stroke-width="2.5"/>
<polygon points="240.00,801.00 233.50,797.80 234.50,801.00 233.50,804.20" fill="#000" stroke="none" stroke-width="0" stroke-linejoin="miter"/>
<polygon points="141.10,566.60 141.10,566.60 141.40,562.02 141.70,557.77 142.00,553.20 142.30,548.60 142.70,542.61 143.10,537.59 143.50,532.37 143.90,526.60 144.50,523.29 145.10,520.60 146.80,524.60 147.47,528.45 148.13,532.11 148.80,536.60 149.47,542.33 150.13,547.29 150.80,552.60 151.80,557.28 152.80,562.60 154.80,565.10 156.03,564.76 157.27,564.69 158.50,565.56 159.73,565.31 160.97,565.48 162.20,565.41 163.43,564.63 164.67,565.02 165.90,564.67 167.13,565.23 168.37,564.73 169.60,565.15 170.83,565.34 172.07,564.82 173.30,565.10 175.05,563.90 176.80,563.60 178.55,564.74 180.30,565.10 180.30,565.10 181.80,565.08 183.30,565.48 184.80,565.33 186.30,565.56 187.30,565.20 187.30,566.60" fill="#000" stroke="none" stroke-width="0" stroke-linejoin="miter"/>
<rect x="139.30" y="518.60" width="49.50" height="49.20" fill="none" stroke="#000" stroke-width="1.3"/>
<line x1="137.80" y1="556.96" x2="139.30" y2="556.96" stroke="#333" stroke-width="0.8"/>
<line x1="137.80" y1="547.12" x2="139.30" y2="547.12" stroke="#333" stroke-width="0.8"/>
<line x1="137.80" y1="537.28" x2="139.30" y2="537.28" stroke="#333" stroke-width="0.8"/>
<line x1="137.80" y1="527.44" x2="139.30" y2="527.44" stroke="#333" stroke-width="0.8"/>
<polygon points="195.80,566.60 195.80,566.60 196.12,562.40 196.45,557.85 196.78,553.00 197.10,548.60 197.48,542.95 197.85,537.90 198.23,532.59 198.60,526.60 199.80,521.60 200.80,524.77 201.80,527.60 202.43,530.92 203.05,534.91 203.68,538.29 204.30,541.60 204.93,545.65 205.55,548.80 206.18,552.80 206.80,556.60 207.80,560.29 208.80,563.10 210.30,565.10 211.57,565.50 212.83,565.20 214.10,565.05 215.37,564.96 216.63,565.51 217.90,565.44 219.17,564.90 220.43,565.19 221.70,565.32 222.97,565.29 224.23,564.65 225.50,565.29 226.77,565.03 228.03,565.24 229.30,565.10 231.05,564.43 232.80,563.60 234.55,563.99 236.30,565.10 236.30,564.70 237.80,565.34 239.30,565.50 241.20,565.20 241.20,566.60" fill="#000" stroke="none" stroke-width="0" stroke-linejoin="miter"/>
<rect x="194.30" y="518.60" width="48.40" height="49.20" fill="none" stroke="#000" stroke-width="1.3"/>
<line x1="192.80" y1="556.96" x2="194.30" y2="556.96" stroke="#333" stroke-width="0.8"/>
<line x1="192.80" y1="547.12" x2="194.30" y2="547.12" stroke="#333" stroke-width="0.8"/>
<line x1="192.80" y1="537.28" x2="194.30" y2="537.28" stroke="#333" stroke-width="0.8"/>
<line x1="192.80" y1="527.44" x2="194.30" y2="527.44" stroke="#333" stroke-width="0.8"/>
<polygon points="140.10,635.80 140.10,635.80 140.40,630.57 140.70,626.10 141.00,621.29 141.30,615.80 141.75,609.90 142.20,604.88 142.65,598.98 143.10,593.80 144.30,589.30 144.95,592.64 145.60,595.80 146.45,598.42 147.30,601.80 149.30,603.80 149.97,607.84 150.63,612.14 151.30,615.80 152.13,619.95 152.97,623.08 153.80,626.80 154.80,628.66 155.80,630.39 156.80,632.80 158.05,633.81 159.30,634.00 159.30,634.28 160.80,634.53 162.30,634.40 163.80,634.75 165.30,634.62 166.80,634.38 168.30,633.97 169.80,634.79 171.30,634.41 172.80,634.10 174.30,633.93 175.80,634.70 177.30,634.77 178.80,633.96 180.30,633.92 181.80,634.42 183.30,634.85 184.80,633.97 186.30,634.51 187.30,634.40 187.30,635.80" fill="#000" stroke="none" stroke-width="0" stroke-linejoin="miter"/>
<rect x="139.30" y="587.80" width="49.50" height="49.20" fill="none" stroke="#000" stroke-width="1.3"/>
<line x1="137.80" y1="626.16" x2="139.30" y2="626.16" stroke="#333" stroke-width="0.8"/>
<line x1="137.80" y1="616.32" x2="139.30" y2="616.32" stroke="#333" stroke-width="0.8"/>
<line x1="137.80" y1="606.48" x2="139.30" y2="606.48" stroke="#333" stroke-width="0.8"/>
<line x1="137.80" y1="596.64" x2="139.30" y2="596.64" stroke="#333" stroke-width="0.8"/>
<polygon points="195.10,635.80 195.10,635.80 195.53,630.40 195.95,625.68 196.38,620.48 196.80,615.80 197.30,610.64 197.80,604.51 198.30,599.58 198.80,593.80 200.10,589.80 201.80,593.80 202.63,597.23 203.47,600.12 204.30,603.80 205.05,606.97 205.80,611.12 206.55,614.58 207.30,617.80 208.30,621.57 209.30,625.12 210.30,628.80 211.80,631.42 213.30,633.80 213.30,634.78 214.80,634.65 216.30,634.18 217.80,634.00 219.30,634.86 220.80,634.34 222.30,634.14 223.80,634.86 225.30,634.06 226.80,634.78 228.30,634.30 229.80,634.35 231.30,634.27 232.80,634.59 234.30,634.48 235.80,634.32 237.30,634.47 238.80,634.24 240.30,634.45 241.20,634.40 241.20,635.80" fill="#000" stroke="none" stroke-width="0" stroke-linejoin="miter"/>
<rect x="194.30" y="587.80" width="48.40" height="49.20" fill="none" stroke="#000" stroke-width="1.3"/>
<line x1="192.80" y1="626.16" x2="194.30" y2="626.16" stroke="#333" stroke-width="0.8"/>
<line x1="192.80" y1="616.32" x2="194.30" y2="616.32" stroke="#333" stroke-width="0.8"/>
<line x1="192.80" y1="606.48" x2="194.30" y2="606.48" stroke="#333" stroke-width="0.8"/>
<line x1="192.80" y1="596.64" x2="194.30" y2="596.64" stroke="#333" stroke-width="0.8"/>
<polygon points="140.10,721.20 140.10,721.20 140.50,712.20 141.15,708.76 141.80,705.20 142.80,702.18 143.80,698.20 145.05,695.83 146.30,693.70 147.55,693.96 148.80,694.20 150.05,693.46 151.30,692.20 152.30,694.94 153.30,698.20 154.13,701.25 154.97,704.91 155.80,708.20 156.80,711.19 157.80,713.56 158.80,716.20 160.05,718.34 161.30,719.70 161.30,720.17 162.80,719.87 164.30,720.21 165.80,719.86 167.30,719.79 168.80,720.26 170.30,719.66 171.80,720.22 173.30,719.57 174.80,719.52 176.30,719.79 177.80,720.25 179.30,719.80 180.80,719.92 182.30,719.35 183.80,720.16 185.30,719.44 187.30,719.80 187.30,721.20" fill="#000" stroke="none" stroke-width="0" stroke-linejoin="miter"/>
<polyline points="149.80,693.20 151.30,688.20 152.30,683.70 153.30,680.20 155.30,676.20 156.80,678.20 158.80,681.20 159.30,684.97 159.80,688.89 160.30,693.20 160.80,698.84 161.30,703.38 161.80,709.20 162.55,713.71 163.30,718.20 164.80,720.20" fill="none" stroke="#000" stroke-width="1.3" stroke-linejoin="round"/>
<rect x="139.30" y="673.20" width="49.50" height="49.20" fill="none" stroke="#000" stroke-width="1.3"/>
<line x1="137.80" y1="711.56" x2="139.30" y2="711.56" stroke="#333" stroke-width="0.8"/>
<line x1="137.80" y1="701.72" x2="139.30" y2="701.72" stroke="#333" stroke-width="0.8"/>
<line x1="137.80" y1="691.88" x2="139.30" y2="691.88" stroke="#333" stroke-width="0.8"/>
<line x1="137.80" y1="682.04" x2="139.30" y2="682.04" stroke="#333" stroke-width="0.8"/>
<polygon points="195.10,721.20 195.10,721.20 195.43,714.08 195.77,707.45 196.10,701.20 196.67,696.20 197.23,690.24 197.80,685.20 198.63,681.77 199.47,679.63 200.30,676.20 201.55,677.85 202.80,679.20 204.30,678.20 206.10,676.20 206.95,679.44 207.80,683.20 208.43,686.79 209.05,689.30 209.68,693.18 210.30,696.20 211.05,699.38 211.80,703.56 212.55,706.70 213.30,710.20 214.47,712.78 215.63,716.49 216.80,719.20 218.30,719.70 218.30,720.04 219.80,719.79 221.30,719.98 222.80,720.26 224.30,720.12 225.80,720.14 227.30,719.36 228.80,719.62 230.30,719.40 231.80,720.13 233.30,719.52 234.80,720.18 236.30,719.77 237.80,719.66 239.30,719.94 241.20,719.80 241.20,721.20" fill="#000" stroke="none" stroke-width="0" stroke-linejoin="miter"/>
<rect x="194.30" y="673.20" width="48.40" height="49.20" fill="none" stroke="#000" stroke-width="1.3"/>
<line x1="192.80" y1="711.56" x2="194.30" y2="711.56" stroke="#333" stroke-width="0.8"/>
<line x1="192.80" y1="701.72" x2="194.30" y2="701.72" stroke="#333" stroke-width="0.8"/>
<line x1="192.80" y1="691.88" x2="194.30" y2="691.88" stroke="#333" stroke-width="0.8"/>
<line x1="192.80" y1="682.04" x2="194.30" y2="682.04" stroke="#333" stroke-width="0.8"/>
<polygon points="140.10,791.00 140.10,791.00 140.23,784.63 140.37,778.94 140.50,773.00 141.90,771.42 143.30,770.00 144.80,767.62 146.30,766.00 147.55,764.40 148.80,762.00 150.10,760.00 150.95,762.51 151.80,766.00 152.80,771.37 153.80,777.00 154.80,781.61 155.80,786.00 157.80,789.50 157.80,789.30 159.30,789.84 160.80,789.11 162.30,789.52 163.80,789.74 165.30,789.34 166.80,789.66 168.30,789.92 169.80,789.36 171.30,790.05 172.80,789.28 174.30,789.85 175.80,789.46 177.30,789.12 178.80,789.51 180.30,789.44 181.80,789.79 183.30,790.10 184.80,790.07 186.30,789.95 187.30,789.60 187.30,791.00" fill="#000" stroke="none" stroke-width="0" stroke-linejoin="miter"/>
<polyline points="140.80,773.00 141.30,768.88 141.80,765.07 142.30,761.00 142.87,756.99 143.43,752.60 144.00,749.00 145.10,746.00 146.60,751.00 148.30,756.00 150.10,760.00" fill="none" stroke="#000" stroke-width="1.3" stroke-linejoin="round"/>
<rect x="139.30" y="743.00" width="49.50" height="49.20" fill="none" stroke="#000" stroke-width="1.3"/>
<line x1="137.80" y1="781.36" x2="139.30" y2="781.36" stroke="#333" stroke-width="0.8"/>
<line x1="137.80" y1="771.52" x2="139.30" y2="771.52" stroke="#333" stroke-width="0.8"/>
<line x1="137.80" y1="761.68" x2="139.30" y2="761.68" stroke="#333" stroke-width="0.8"/>
<line x1="137.80" y1="751.84" x2="139.30" y2="751.84" stroke="#333" stroke-width="0.8"/>
<polygon points="195.10,791.00 195.10,791.00 195.23,784.70 195.37,777.94 195.50,771.00 196.90,769.60 198.30,768.50 199.80,767.73 201.30,766.00 203.30,761.00 205.10,756.00 205.95,760.00 206.80,763.00 207.80,768.65 208.80,774.00 209.80,778.89 210.80,783.00 211.95,786.39 213.10,789.50 213.10,789.88 214.60,789.52 216.10,789.51 217.60,789.90 219.10,789.48 220.60,789.63 222.10,789.97 223.60,789.16 225.10,789.86 226.60,789.95 228.10,790.00 229.60,789.46 231.10,789.23 232.60,789.32 234.10,789.70 235.60,789.84 237.10,790.09 238.60,789.46 240.10,789.54 241.20,789.60 241.20,791.00" fill="#000" stroke="none" stroke-width="0" stroke-linejoin="miter"/>
<polyline points="208.30,776.00 210.30,775.00 211.45,770.65 212.60,766.00 213.70,762.35 214.80,759.00 216.30,754.50 217.80,759.00 218.47,763.06 219.13,766.56 219.80,771.00 220.43,773.77 221.05,777.25 221.68,779.60 222.30,783.00 223.23,785.79 224.17,787.64 225.10,790.00" fill="none" stroke="#000" stroke-width="1.3" stroke-linejoin="round"/>
<rect x="194.30" y="743.00" width="48.40" height="49.20" fill="none" stroke="#000" stroke-width="1.3"/>
<line x1="192.80" y1="781.36" x2="194.30" y2="781.36" stroke="#333" stroke-width="0.8"/>
<line x1="192.80" y1="771.52" x2="194.30" y2="771.52" stroke="#333" stroke-width="0.8"/>
<line x1="192.80" y1="761.68" x2="194.30" y2="761.68" stroke="#333" stroke-width="0.8"/>
<line x1="192.80" y1="751.84" x2="194.30" y2="751.84" stroke="#333" stroke-width="0.8"/>
<text x="264.00" y="418.40" font-size="16.5" font-weight="bold" text-anchor="start">D</text>
<text x="287.50" y="423.80" font-size="13" font-weight="bold" text-anchor="start">Patient no. 5</text>
<text x="383.80" y="430.60" font-size="13" font-weight="bold" text-anchor="start">Erythema multiforme</text>
<line x1="354.40" y1="436.70" x2="354.40" y2="451.80" stroke="#000" stroke-width="2.4"/>
<polygon points="354.40,457.20 349.50,449.00 354.40,450.80 359.30,449.00" fill="#000" stroke="none" stroke-width="0" stroke-linejoin="miter"/>
<line x1="363.10" y1="436.70" x2="363.10" y2="451.80" stroke="#000" stroke-width="2.4"/>
<polygon points="363.10,457.20 358.20,449.00 363.10,450.80 368.00,449.00" fill="#000" stroke="none" stroke-width="0" stroke-linejoin="miter"/>
<line x1="371.30" y1="436.70" x2="371.30" y2="451.80" stroke="#000" stroke-width="2.4"/>
<polygon points="371.30,457.20 366.40,449.00 371.30,450.80 376.20,449.00" fill="#000" stroke="none" stroke-width="0" stroke-linejoin="miter"/>
<line x1="379.40" y1="436.70" x2="379.40" y2="451.80" stroke="#000" stroke-width="2.4"/>
<polygon points="379.40,457.20 374.50,449.00 379.40,450.80 384.30,449.00" fill="#000" stroke="none" stroke-width="0" stroke-linejoin="miter"/>
<line x1="387.50" y1="436.70" x2="387.50" y2="451.80" stroke="#000" stroke-width="2.4"/>
<polygon points="387.50,457.20 382.60,449.00 387.50,450.80 392.40,449.00" fill="#000" stroke="none" stroke-width="0" stroke-linejoin="miter"/>
<line x1="395.80" y1="436.70" x2="395.80" y2="451.80" stroke="#000" stroke-width="2.4"/>
<polygon points="395.80,457.20 390.90,449.00 395.80,450.80 400.70,449.00" fill="#000" stroke="none" stroke-width="0" stroke-linejoin="miter"/>
<line x1="405.00" y1="436.70" x2="405.00" y2="451.80" stroke="#000" stroke-width="2.4"/>
<polygon points="405.00,457.20 400.10,449.00 405.00,450.80 409.90,449.00" fill="#000" stroke="none" stroke-width="0" stroke-linejoin="miter"/>
<line x1="410.60" y1="436.70" x2="410.60" y2="451.80" stroke="#000" stroke-width="2.4"/>
<polygon points="410.60,457.20 405.70,449.00 410.60,450.80 415.50,449.00" fill="#000" stroke="none" stroke-width="0" stroke-linejoin="miter"/>
<line x1="302.00" y1="475.80" x2="516.00" y2="475.80" stroke="#000" stroke-width="1.7"/>
<polyline points="409.50,475.80 432.50,438.60 443.80,455.50 454.80,438.60 481.30,475.80" fill="none" stroke="#000" stroke-width="2.5" stroke-linejoin="miter"/>
<line x1="322.30" y1="480.30" x2="325.80" y2="471.20" stroke="#000" stroke-width="1.8"/>
<line x1="325.90" y1="480.30" x2="329.40" y2="471.20" stroke="#000" stroke-width="1.8"/>
<text x="256.40" y="491.00" font-size="14" font-weight="bold" text-anchor="start" textLength="42.50" lengthAdjust="spacingAndGlyphs">-1,141</text>
<polygon points="307.00,477.60 301.00,492.40 313.00,492.40" fill="#000" stroke="none" stroke-width="0" stroke-linejoin="miter"/>
<rect x="301.30" y="496.20" width="11.20" height="15.80" fill="#000" stroke="none" stroke-width="0"/>
<text x="382.20" y="490.60" font-size="14" font-weight="bold" text-anchor="start" textLength="17.80" lengthAdjust="spacingAndGlyphs">49</text>
<polygon points="410.30,476.80 404.30,492.00 416.30,492.00" fill="#000" stroke="none" stroke-width="0" stroke-linejoin="miter"/>
<polygon points="410.30,482.88 407.77,489.30 412.83,489.30" fill="#fff" stroke="none" stroke-width="0" stroke-linejoin="miter"/>
<polygon points="433.90,476.80 428.00,492.00 439.80,492.00" fill="#000" stroke="none" stroke-width="0" stroke-linejoin="miter"/>
<polygon points="433.90,482.88 431.41,489.30 436.39,489.30" fill="#fff" stroke="none" stroke-width="0" stroke-linejoin="miter"/>
<polygon points="455.90,476.80 449.70,492.00 462.10,492.00" fill="#000" stroke="none" stroke-width="0" stroke-linejoin="miter"/>
<polygon points="455.90,482.88 453.28,489.30 458.52,489.30" fill="#fff" stroke="none" stroke-width="0" stroke-linejoin="miter"/>
<text x="410.40" y="506.70" font-size="14" font-weight="bold" text-anchor="start" textLength="17.20" lengthAdjust="spacingAndGlyphs">81</text>
<rect x="428.90" y="496.10" width="10.30" height="15.30" fill="#000" stroke="none" stroke-width="0"/>
<rect x="431.50" y="498.70" width="5.10" height="10.10" fill="#fff" stroke="none" stroke-width="0"/>
<text x="462.00" y="490.50" font-size="14" font-weight="bold" text-anchor="start" textLength="25.80" lengthAdjust="spacingAndGlyphs">126</text>
<polygon points="512.10,476.80 506.20,491.80 518.00,491.80" fill="#000" stroke="none" stroke-width="0" stroke-linejoin="miter"/>
<polygon points="512.10,482.80 509.62,489.10 514.58,489.10" fill="#fff" stroke="none" stroke-width="0" stroke-linejoin="miter"/>
<text x="494.00" y="506.70" font-size="14" font-weight="bold" text-anchor="start" textLength="26.00" lengthAdjust="spacingAndGlyphs">200</text>
<text x="257.80" y="580.90" font-size="15" font-weight="bold" text-anchor="start" textLength="23.70" lengthAdjust="spacingAndGlyphs">IgG</text>
<text x="255.00" y="647.00" font-size="15" font-weight="bold" text-anchor="start" textLength="27.00" lengthAdjust="spacingAndGlyphs">IgM</text>
<text x="257.80" y="737.60" font-size="15" font-weight="bold" text-anchor="start" textLength="23.70" lengthAdjust="spacingAndGlyphs">IgG</text>
<text x="255.00" y="804.00" font-size="15" font-weight="bold" text-anchor="start" textLength="27.00" lengthAdjust="spacingAndGlyphs">IgM</text>
<line x1="301.00" y1="577.00" x2="501.50" y2="577.00" stroke="#000" stroke-width="2.8"/>
<polygon points="507.00,577.00 500.50,573.50 501.50,577.00 500.50,580.50" fill="#000" stroke="none" stroke-width="0" stroke-linejoin="miter"/>
<line x1="301.00" y1="645.00" x2="501.50" y2="645.00" stroke="#000" stroke-width="2.8"/>
<polygon points="507.00,645.00 500.50,641.50 501.50,645.00 500.50,648.50" fill="#000" stroke="none" stroke-width="0" stroke-linejoin="miter"/>
<line x1="301.00" y1="732.50" x2="501.50" y2="732.50" stroke="#000" stroke-width="2.8"/>
<polygon points="507.00,732.50 500.50,729.00 501.50,732.50 500.50,736.00" fill="#000" stroke="none" stroke-width="0" stroke-linejoin="miter"/>
<line x1="301.00" y1="801.00" x2="501.50" y2="801.00" stroke="#000" stroke-width="2.8"/>
<polygon points="507.00,801.00 500.50,797.50 501.50,801.00 500.50,804.50" fill="#000" stroke="none" stroke-width="0" stroke-linejoin="miter"/>
<polygon points="296.20,565.70 296.20,565.70 296.60,560.46 297.00,555.30 297.40,549.70 297.84,545.34 298.28,539.82 298.72,535.79 299.16,530.45 299.60,525.70 300.40,522.26 301.20,519.70 302.30,523.06 303.40,525.70 304.23,529.33 305.07,532.26 305.90,535.70 306.80,539.69 307.70,543.70 308.20,547.89 308.70,552.05 309.20,556.70 311.20,561.20 312.80,562.28 314.40,562.70 315.60,563.09 316.80,563.30 318.00,563.75 319.20,563.11 320.40,563.70 320.40,563.62 321.90,563.68 323.40,564.39 324.90,563.56 326.40,563.65 327.90,563.93 329.40,563.66 330.90,563.95 332.40,564.17 333.90,564.29 335.40,564.17 336.90,564.36 338.40,564.06 339.90,563.65 341.40,563.70 343.10,563.90 343.10,565.70" fill="#000" stroke="none" stroke-width="0" stroke-linejoin="miter"/>
<rect x="294.40" y="517.60" width="50.20" height="49.30" fill="none" stroke="#000" stroke-width="1.3"/>
<line x1="292.90" y1="556.04" x2="294.40" y2="556.04" stroke="#333" stroke-width="0.8"/>
<line x1="292.90" y1="546.18" x2="294.40" y2="546.18" stroke="#333" stroke-width="0.8"/>
<line x1="292.90" y1="536.32" x2="294.40" y2="536.32" stroke="#333" stroke-width="0.8"/>
<line x1="292.90" y1="526.46" x2="294.40" y2="526.46" stroke="#333" stroke-width="0.8"/>
<polygon points="351.60,565.70 351.60,565.70 352.00,560.02 352.40,554.82 352.80,549.70 353.20,545.13 353.60,540.05 354.00,535.36 354.40,530.21 354.80,525.70 355.55,522.68 356.30,519.70 357.30,522.93 358.30,525.70 359.13,528.89 359.97,531.90 360.80,535.70 361.70,539.98 362.60,543.70 363.17,547.65 363.73,552.85 364.30,556.70 366.30,561.20 367.55,562.19 368.80,562.70 370.00,563.16 371.20,562.86 372.40,562.86 373.60,563.25 374.80,563.70 374.80,564.07 376.30,563.52 377.80,564.07 379.30,564.16 380.80,563.49 382.30,563.77 383.80,563.71 385.30,563.73 386.80,563.42 388.30,563.93 389.80,563.56 391.30,563.70 392.80,563.54 394.30,563.96 395.80,563.68 397.30,563.83 398.50,563.90 398.50,565.70" fill="#000" stroke="none" stroke-width="0" stroke-linejoin="miter"/>
<rect x="349.80" y="517.60" width="50.20" height="49.30" fill="none" stroke="#000" stroke-width="1.3"/>
<line x1="348.30" y1="556.04" x2="349.80" y2="556.04" stroke="#333" stroke-width="0.8"/>
<line x1="348.30" y1="546.18" x2="349.80" y2="546.18" stroke="#333" stroke-width="0.8"/>
<line x1="348.30" y1="536.32" x2="349.80" y2="536.32" stroke="#333" stroke-width="0.8"/>
<line x1="348.30" y1="526.46" x2="349.80" y2="526.46" stroke="#333" stroke-width="0.8"/>
<polygon points="407.20,565.70 407.20,565.70 407.77,561.23 408.33,556.65 408.90,551.70 409.36,546.38 409.82,541.72 410.28,535.69 410.74,531.26 411.20,525.70 411.95,523.17 412.70,519.70 413.45,523.09 414.20,525.70 414.87,529.94 415.53,535.19 416.20,539.70 416.82,544.06 417.45,548.17 418.07,552.16 418.70,555.70 419.95,558.26 421.20,561.20 422.95,561.82 424.70,562.70 425.90,562.70 427.10,562.86 428.30,563.73 429.50,563.41 430.70,563.70 430.70,564.04 432.20,563.58 433.70,563.58 435.20,563.51 436.70,564.33 438.20,563.53 439.70,563.49 441.20,563.46 442.70,564.29 444.20,564.19 445.70,564.29 447.20,564.37 448.70,563.55 450.20,563.59 451.70,563.77 453.20,563.57 454.40,563.90 454.40,565.70" fill="#000" stroke="none" stroke-width="0" stroke-linejoin="miter"/>
<rect x="405.70" y="517.60" width="50.20" height="49.30" fill="none" stroke="#000" stroke-width="1.3"/>
<line x1="404.20" y1="556.04" x2="405.70" y2="556.04" stroke="#333" stroke-width="0.8"/>
<line x1="404.20" y1="546.18" x2="405.70" y2="546.18" stroke="#333" stroke-width="0.8"/>
<line x1="404.20" y1="536.32" x2="405.70" y2="536.32" stroke="#333" stroke-width="0.8"/>
<line x1="404.20" y1="526.46" x2="405.70" y2="526.46" stroke="#333" stroke-width="0.8"/>
<polygon points="462.20,565.70 462.20,565.70 462.77,560.90 463.33,556.58 463.90,551.70 464.36,546.90 464.82,541.70 465.28,535.84 465.74,531.20 466.20,525.70 466.95,522.88 467.70,519.70 468.45,522.78 469.20,525.70 469.87,530.85 470.53,535.28 471.20,539.70 471.82,543.92 472.45,547.48 473.07,551.83 473.70,555.70 474.95,558.63 476.20,561.20 477.95,561.49 479.70,562.70 480.90,562.90 482.10,562.75 483.30,563.18 484.50,563.97 485.70,563.70 485.70,563.99 487.20,563.96 488.70,563.63 490.20,564.05 491.70,563.70 493.20,563.86 494.70,564.18 496.20,563.54 497.70,564.31 499.20,563.58 500.70,564.23 502.20,564.40 503.70,564.20 505.20,563.64 506.70,563.42 508.50,563.90 508.50,565.70" fill="#000" stroke="none" stroke-width="0" stroke-linejoin="miter"/>
<rect x="460.70" y="517.60" width="49.30" height="49.30" fill="none" stroke="#000" stroke-width="1.3"/>
<line x1="459.20" y1="556.04" x2="460.70" y2="556.04" stroke="#333" stroke-width="0.8"/>
<line x1="459.20" y1="546.18" x2="460.70" y2="546.18" stroke="#333" stroke-width="0.8"/>
<line x1="459.20" y1="536.32" x2="460.70" y2="536.32" stroke="#333" stroke-width="0.8"/>
<line x1="459.20" y1="526.46" x2="460.70" y2="526.46" stroke="#333" stroke-width="0.8"/>
<polygon points="295.20,635.70 295.20,635.70 295.38,629.95 295.55,623.21 295.72,616.96 295.90,610.70 296.27,605.90 296.65,602.02 297.02,597.21 297.40,592.70 298.90,589.70 300.90,592.70 301.73,595.19 302.57,597.03 303.40,599.70 304.40,602.94 305.40,605.26 306.40,608.70 307.40,611.58 308.40,614.32 309.40,616.70 310.57,619.17 311.73,622.04 312.90,624.70 314.07,627.09 315.23,628.56 316.40,630.70 318.15,632.87 319.90,634.20 319.90,634.01 321.40,634.10 322.90,634.01 324.40,634.17 325.90,634.44 327.40,634.40 328.90,634.41 330.40,633.91 331.90,634.71 333.40,633.91 334.90,634.77 336.40,634.59 337.90,634.54 339.40,633.90 340.90,634.30 342.40,634.42 343.10,634.30 343.10,635.70" fill="#000" stroke="none" stroke-width="0" stroke-linejoin="miter"/>
<polyline points="307.40,615.70 308.65,616.32 309.90,617.70 311.90,616.20 313.90,612.70 315.70,610.90 317.90,614.70 318.73,617.30 319.57,619.41 320.40,621.70 321.40,623.84 322.40,625.78 323.40,628.20 325.15,630.45 326.90,633.20 328.40,633.80 329.90,634.70" fill="none" stroke="#000" stroke-width="1.3" stroke-linejoin="round"/>
<rect x="294.40" y="587.60" width="50.20" height="49.30" fill="none" stroke="#000" stroke-width="1.3"/>
<line x1="292.90" y1="626.04" x2="294.40" y2="626.04" stroke="#333" stroke-width="0.8"/>
<line x1="292.90" y1="616.18" x2="294.40" y2="616.18" stroke="#333" stroke-width="0.8"/>
<line x1="292.90" y1="606.32" x2="294.40" y2="606.32" stroke="#333" stroke-width="0.8"/>
<line x1="292.90" y1="596.46" x2="294.40" y2="596.46" stroke="#333" stroke-width="0.8"/>
<polygon points="350.60,635.70 350.60,635.70 350.78,628.85 350.95,621.87 351.12,615.04 351.30,607.70 351.73,601.69 352.17,596.20 352.60,590.70 353.80,589.70 355.80,593.70 356.63,596.12 357.47,599.36 358.30,601.70 359.30,605.09 360.30,608.09 361.30,611.70 362.30,614.62 363.30,618.07 364.30,620.70 365.30,623.07 366.30,624.98 367.30,627.70 369.05,630.71 370.80,633.20 372.30,634.20 372.30,634.61 373.80,634.50 375.30,634.10 376.80,633.96 378.30,634.65 379.80,634.64 381.30,634.55 382.80,634.47 384.30,634.28 385.80,634.64 387.30,634.47 388.80,634.61 390.30,633.82 391.80,634.07 393.30,634.70 394.80,633.84 396.30,634.70 397.80,634.42 398.50,634.30 398.50,635.70" fill="#000" stroke="none" stroke-width="0" stroke-linejoin="miter"/>
<polyline points="357.80,604.70 359.05,605.72 360.30,607.70 361.55,605.41 362.80,603.70 364.80,606.70 366.05,608.97 367.30,611.70 368.55,613.02 369.80,614.20 370.63,616.67 371.47,618.40 372.30,620.70 373.13,623.76 373.97,626.33 374.80,628.70 376.30,631.56 377.80,634.20" fill="none" stroke="#000" stroke-width="1.3" stroke-linejoin="round"/>
<rect x="349.80" y="587.60" width="50.20" height="49.30" fill="none" stroke="#000" stroke-width="1.3"/>
<line x1="348.30" y1="626.04" x2="349.80" y2="626.04" stroke="#333" stroke-width="0.8"/>
<line x1="348.30" y1="616.18" x2="349.80" y2="616.18" stroke="#333" stroke-width="0.8"/>
<line x1="348.30" y1="606.32" x2="349.80" y2="606.32" stroke="#333" stroke-width="0.8"/>
<line x1="348.30" y1="596.46" x2="349.80" y2="596.46" stroke="#333" stroke-width="0.8"/>
<polygon points="406.50,635.70 406.50,635.70 406.68,629.67 406.85,622.80 407.02,615.91 407.20,609.70 407.57,605.01 407.95,600.70 408.32,596.07 408.70,591.70 410.00,589.70 412.00,593.70 412.90,596.40 413.80,599.39 414.70,601.70 415.70,604.60 416.70,607.80 417.70,610.70 418.70,613.13 419.70,615.63 420.70,618.70 421.87,621.44 423.03,623.96 424.20,626.70 425.37,628.45 426.53,630.78 427.70,632.70 429.70,634.20 429.70,634.57 431.20,634.08 432.70,633.92 434.20,634.03 435.70,634.10 437.20,633.95 438.70,634.12 440.20,634.16 441.70,634.35 443.20,634.49 444.70,634.17 446.20,634.70 447.70,634.38 449.20,634.02 450.70,634.09 452.20,634.17 453.70,634.55 454.40,634.30 454.40,635.70" fill="#000" stroke="none" stroke-width="0" stroke-linejoin="miter"/>
<polyline points="414.20,604.70 415.45,605.78 416.70,606.70 418.70,601.70 420.70,600.70 422.70,605.70 423.70,609.74 424.70,613.70 426.20,614.70 426.95,619.08 427.70,623.70 428.70,627.29 429.70,630.70 430.95,632.27 432.20,634.20" fill="none" stroke="#000" stroke-width="1.3" stroke-linejoin="round"/>
<rect x="405.70" y="587.60" width="50.20" height="49.30" fill="none" stroke="#000" stroke-width="1.3"/>
<line x1="404.20" y1="626.04" x2="405.70" y2="626.04" stroke="#333" stroke-width="0.8"/>
<line x1="404.20" y1="616.18" x2="405.70" y2="616.18" stroke="#333" stroke-width="0.8"/>
<line x1="404.20" y1="606.32" x2="405.70" y2="606.32" stroke="#333" stroke-width="0.8"/>
<line x1="404.20" y1="596.46" x2="405.70" y2="596.46" stroke="#333" stroke-width="0.8"/>
<polygon points="461.50,635.70 461.50,635.70 461.68,628.77 461.85,623.02 462.02,616.05 462.20,609.70 462.52,604.92 462.85,600.81 463.18,596.21 463.50,591.70 464.70,589.70 466.70,593.70 467.70,595.56 468.70,598.83 469.70,600.70 470.70,603.32 471.70,606.37 472.70,608.70 473.70,611.08 474.70,613.59 475.70,616.70 476.87,619.35 478.03,622.43 479.20,624.70 480.37,626.96 481.53,629.33 482.70,631.70 483.95,632.73 485.20,634.20 485.20,634.29 486.70,634.16 488.20,633.97 489.70,634.28 491.20,634.39 492.70,633.85 494.20,634.59 495.70,634.12 497.20,634.41 498.70,634.04 500.20,634.68 501.70,633.82 503.20,634.44 504.70,634.74 506.20,634.53 507.70,634.40 508.50,634.30 508.50,635.70" fill="#000" stroke="none" stroke-width="0" stroke-linejoin="miter"/>
<polyline points="468.70,596.70 469.53,599.19 470.37,600.78 471.20,602.70 472.03,604.78 472.87,606.50 473.70,608.70 474.95,611.60 476.20,614.20 477.70,615.20 478.70,618.68 479.70,621.70 480.95,624.48 482.20,626.70 483.45,628.96 484.70,631.70 485.95,632.76 487.20,634.70" fill="none" stroke="#000" stroke-width="1.3" stroke-linejoin="round"/>
<rect x="460.70" y="587.60" width="49.30" height="49.30" fill="none" stroke="#000" stroke-width="1.3"/>
<line x1="459.20" y1="626.04" x2="460.70" y2="626.04" stroke="#333" stroke-width="0.8"/>
<line x1="459.20" y1="616.18" x2="460.70" y2="616.18" stroke="#333" stroke-width="0.8"/>
<line x1="459.20" y1="606.32" x2="460.70" y2="606.32" stroke="#333" stroke-width="0.8"/>
<line x1="459.20" y1="596.46" x2="460.70" y2="596.46" stroke="#333" stroke-width="0.8"/>
<polygon points="298.70,721.10 298.70,721.10 299.80,717.07 300.90,713.10 301.90,708.38 302.90,703.10 303.90,698.30 304.90,694.10 305.57,689.87 306.23,685.72 306.90,681.10 308.70,676.10 309.55,680.97 310.40,685.10 311.40,688.82 312.40,693.10 313.90,697.10 315.70,696.10 316.55,699.29 317.40,703.10 318.23,705.97 319.07,709.13 319.90,712.10 321.15,714.79 322.40,717.60 323.65,718.62 324.90,719.10 326.27,718.76 327.65,719.50 329.02,719.34 330.40,719.60 330.40,719.38 331.90,719.38 333.40,719.73 334.90,719.91 336.40,719.65 337.90,720.07 339.40,719.37 340.90,719.85 342.40,719.35 343.10,719.70 343.10,721.10" fill="#000" stroke="none" stroke-width="0" stroke-linejoin="miter"/>
<polyline points="295.40,720.10 296.00,712.10 297.00,702.10 297.70,699.08 298.40,695.60 300.20,692.60 302.20,693.10 303.70,695.10 304.70,694.10" fill="none" stroke="#000" stroke-width="1.3" stroke-linejoin="round"/>
<rect x="294.40" y="673.00" width="50.20" height="49.30" fill="none" stroke="#000" stroke-width="1.3"/>
<line x1="292.90" y1="711.44" x2="294.40" y2="711.44" stroke="#333" stroke-width="0.8"/>
<line x1="292.90" y1="701.58" x2="294.40" y2="701.58" stroke="#333" stroke-width="0.8"/>
<line x1="292.90" y1="691.72" x2="294.40" y2="691.72" stroke="#333" stroke-width="0.8"/>
<line x1="292.90" y1="681.86" x2="294.40" y2="681.86" stroke="#333" stroke-width="0.8"/>
<polygon points="353.10,721.10 353.10,721.10 354.20,717.72 355.30,714.10 355.93,711.35 356.55,708.17 357.18,705.41 357.80,702.10 358.57,698.60 359.33,693.88 360.10,690.10 361.80,685.10 362.80,682.10 363.55,685.32 364.30,688.10 365.30,692.36 366.30,696.10 368.30,700.10 370.30,700.60 372.30,706.10 373.13,708.30 373.97,710.12 374.80,712.10 376.05,714.67 377.30,717.10 378.55,718.21 379.80,719.60 379.80,719.54 381.30,719.84 382.80,719.27 384.30,719.35 385.80,720.14 387.30,719.37 388.80,719.29 390.30,719.42 391.80,720.06 393.30,719.37 394.80,719.57 396.30,720.19 397.80,720.19 398.50,719.70 398.50,721.10" fill="#000" stroke="none" stroke-width="0" stroke-linejoin="miter"/>
<polyline points="350.80,720.10 351.20,713.15 351.60,707.10 352.10,700.44 352.60,694.10 353.30,690.85 354.00,687.10 355.30,691.10 355.95,694.50 356.60,697.10 357.80,702.10" fill="none" stroke="#000" stroke-width="1.3" stroke-linejoin="round"/>
<rect x="349.80" y="673.00" width="50.20" height="49.30" fill="none" stroke="#000" stroke-width="1.3"/>
<line x1="348.30" y1="711.44" x2="349.80" y2="711.44" stroke="#333" stroke-width="0.8"/>
<line x1="348.30" y1="701.58" x2="349.80" y2="701.58" stroke="#333" stroke-width="0.8"/>
<line x1="348.30" y1="691.72" x2="349.80" y2="691.72" stroke="#333" stroke-width="0.8"/>
<line x1="348.30" y1="681.86" x2="349.80" y2="681.86" stroke="#333" stroke-width="0.8"/>
<polygon points="408.70,721.10 408.70,721.10 409.70,717.96 410.70,714.10 411.32,711.12 411.95,707.32 412.57,704.50 413.20,701.10 413.82,697.95 414.45,693.70 415.07,690.31 415.70,687.10 416.70,683.43 417.70,679.10 419.00,676.10 419.75,680.21 420.50,685.10 421.35,688.49 422.20,692.10 424.20,696.10 426.50,696.10 427.60,699.82 428.70,704.10 429.53,706.60 430.37,709.04 431.20,712.10 432.45,714.31 433.70,717.10 435.10,718.01 436.50,719.60 436.50,720.00 438.00,719.51 439.50,719.67 441.00,719.46 442.50,719.76 444.00,719.32 445.50,719.64 447.00,719.94 448.50,719.97 450.00,720.06 451.50,719.71 453.00,720.14 454.40,719.70 454.40,721.10" fill="#000" stroke="none" stroke-width="0" stroke-linejoin="miter"/>
<polyline points="406.70,720.10 407.10,712.63 407.50,705.10 407.80,700.96 408.10,696.11 408.40,691.60 408.70,687.10 409.35,682.06 410.00,677.10 411.50,675.60 412.70,680.10 414.00,685.10 415.20,689.10" fill="none" stroke="#000" stroke-width="1.3" stroke-linejoin="round"/>
<rect x="405.70" y="673.00" width="50.20" height="49.30" fill="none" stroke="#000" stroke-width="1.3"/>
<line x1="404.20" y1="711.44" x2="405.70" y2="711.44" stroke="#333" stroke-width="0.8"/>
<line x1="404.20" y1="701.58" x2="405.70" y2="701.58" stroke="#333" stroke-width="0.8"/>
<line x1="404.20" y1="691.72" x2="405.70" y2="691.72" stroke="#333" stroke-width="0.8"/>
<line x1="404.20" y1="681.86" x2="405.70" y2="681.86" stroke="#333" stroke-width="0.8"/>
<polygon points="463.70,721.10 463.70,721.10 464.70,717.24 465.70,714.10 466.32,711.34 466.95,707.26 467.57,704.38 468.20,701.10 468.87,697.04 469.53,692.93 470.20,689.10 470.95,685.76 471.70,683.10 472.70,680.60 473.45,684.48 474.20,688.10 475.20,691.68 476.20,695.10 478.20,699.10 480.20,699.10 481.03,700.97 481.87,704.19 482.70,706.10 483.53,708.30 484.37,710.63 485.20,713.10 486.45,715.82 487.70,717.60 488.95,718.49 490.20,719.60 490.20,719.52 491.70,719.27 493.20,719.87 494.70,719.22 496.20,719.69 497.70,719.72 499.20,719.30 500.70,720.17 502.20,719.48 503.70,719.57 505.20,719.86 506.70,719.34 508.50,719.70 508.50,721.10" fill="#000" stroke="none" stroke-width="0" stroke-linejoin="miter"/>
<polyline points="461.70,720.10 462.10,712.73 462.50,705.10 462.90,699.79 463.30,694.41 463.70,689.10 464.45,685.33 465.20,682.10 466.70,686.10 467.70,692.10 469.00,697.10" fill="none" stroke="#000" stroke-width="1.3" stroke-linejoin="round"/>
<rect x="460.70" y="673.00" width="49.30" height="49.30" fill="none" stroke="#000" stroke-width="1.3"/>
<line x1="459.20" y1="711.44" x2="460.70" y2="711.44" stroke="#333" stroke-width="0.8"/>
<line x1="459.20" y1="701.58" x2="460.70" y2="701.58" stroke="#333" stroke-width="0.8"/>
<line x1="459.20" y1="691.72" x2="460.70" y2="691.72" stroke="#333" stroke-width="0.8"/>
<line x1="459.20" y1="681.86" x2="460.70" y2="681.86" stroke="#333" stroke-width="0.8"/>
<polygon points="295.60,790.70 295.60,790.70 296.03,786.32 296.47,781.43 296.90,776.70 297.40,771.44 297.90,765.98 298.40,760.70 299.07,756.37 299.73,752.91 300.40,748.70 302.40,745.70 303.65,745.12 304.90,745.20 306.15,746.55 307.40,747.70 308.40,751.70 309.40,755.70 310.02,758.93 310.65,761.69 311.27,764.23 311.90,767.70 312.73,771.21 313.57,774.74 314.40,778.70 315.23,781.54 316.07,784.22 316.90,786.70 318.90,789.20 318.90,789.50 320.40,789.21 321.90,789.17 323.40,789.02 324.90,789.76 326.40,789.08 327.90,788.91 329.40,789.25 330.90,789.75 332.40,789.50 333.90,789.79 335.40,789.61 336.90,788.88 338.40,789.19 339.90,789.14 341.40,789.01 343.10,789.30 343.10,790.70" fill="#000" stroke="none" stroke-width="0" stroke-linejoin="miter"/>
<polyline points="308.90,754.70 310.40,755.70 311.90,753.70 313.40,752.70 314.70,752.70 315.90,760.70 316.90,765.79 317.90,771.70 318.73,774.92 319.57,778.25 320.40,781.70 321.23,783.74 322.07,785.84 322.90,788.20 324.40,789.70" fill="none" stroke="#000" stroke-width="1.3" stroke-linejoin="round"/>
<rect x="294.40" y="742.60" width="50.20" height="49.30" fill="none" stroke="#000" stroke-width="1.3"/>
<line x1="292.90" y1="781.04" x2="294.40" y2="781.04" stroke="#333" stroke-width="0.8"/>
<line x1="292.90" y1="771.18" x2="294.40" y2="771.18" stroke="#333" stroke-width="0.8"/>
<line x1="292.90" y1="761.32" x2="294.40" y2="761.32" stroke="#333" stroke-width="0.8"/>
<line x1="292.90" y1="751.46" x2="294.40" y2="751.46" stroke="#333" stroke-width="0.8"/>
<polygon points="350.80,790.70 350.80,790.70 351.30,786.60 351.80,782.52 352.30,778.70 352.97,773.65 353.63,767.87 354.30,762.70 354.97,758.74 355.63,754.44 356.30,750.70 358.30,746.70 359.55,746.85 360.80,746.20 362.80,747.70 363.70,751.52 364.60,754.70 365.45,759.66 366.30,763.70 367.30,768.43 368.30,773.70 369.13,776.62 369.97,780.21 370.80,783.70 372.05,786.58 373.30,789.20 373.30,788.98 374.80,789.01 376.30,789.24 377.80,789.54 379.30,789.50 380.80,789.38 382.30,789.48 383.80,789.37 385.30,789.16 386.80,788.87 388.30,789.75 389.80,789.23 391.30,789.76 392.80,789.68 394.30,788.99 395.80,789.22 397.30,788.88 398.50,789.30 398.50,790.70" fill="#000" stroke="none" stroke-width="0" stroke-linejoin="miter"/>
<polyline points="363.30,748.70 365.00,750.70 366.10,747.70 367.30,750.70 369.00,745.70 370.30,750.70 371.05,756.25 371.80,761.70 372.47,766.52 373.13,770.48 373.80,774.70 374.80,780.11 375.80,785.70 377.30,789.70" fill="none" stroke="#000" stroke-width="1.3" stroke-linejoin="round"/>
<rect x="349.80" y="742.60" width="50.20" height="49.30" fill="none" stroke="#000" stroke-width="1.3"/>
<line x1="348.30" y1="781.04" x2="349.80" y2="781.04" stroke="#333" stroke-width="0.8"/>
<line x1="348.30" y1="771.18" x2="349.80" y2="771.18" stroke="#333" stroke-width="0.8"/>
<line x1="348.30" y1="761.32" x2="349.80" y2="761.32" stroke="#333" stroke-width="0.8"/>
<line x1="348.30" y1="751.46" x2="349.80" y2="751.46" stroke="#333" stroke-width="0.8"/>
<polygon points="406.50,790.70 406.50,790.70 406.90,786.26 407.30,782.22 407.70,778.70 408.32,774.97 408.95,771.29 409.57,767.85 410.20,763.70 411.03,760.22 411.87,757.32 412.70,753.70 413.95,753.05 415.20,751.70 416.45,753.18 417.70,753.70 418.53,756.86 419.37,758.85 420.20,761.70 421.03,765.74 421.87,768.57 422.70,772.70 423.70,776.78 424.70,779.66 425.70,783.70 426.95,786.82 428.20,789.20 428.20,789.78 429.70,789.08 431.20,789.56 432.70,789.07 434.20,789.61 435.70,789.75 437.20,789.03 438.70,789.09 440.20,788.94 441.70,789.07 443.20,789.72 444.70,789.17 446.20,789.09 447.70,789.34 449.20,788.87 450.70,789.55 452.20,788.84 453.70,789.08 454.40,789.30 454.40,790.70" fill="#000" stroke="none" stroke-width="0" stroke-linejoin="miter"/>
<polyline points="420.20,766.70 422.20,763.70 423.03,762.19 423.87,760.19 424.70,757.70 426.50,754.70 428.20,759.70 429.03,763.22 429.87,766.72 430.70,770.70 431.70,774.79 432.70,778.22 433.70,781.70 434.53,783.47 435.37,786.03 436.20,787.70 437.70,789.70" fill="none" stroke="#000" stroke-width="1.3" stroke-linejoin="round"/>
<rect x="405.70" y="742.60" width="50.20" height="49.30" fill="none" stroke="#000" stroke-width="1.3"/>
<line x1="404.20" y1="781.04" x2="405.70" y2="781.04" stroke="#333" stroke-width="0.8"/>
<line x1="404.20" y1="771.18" x2="405.70" y2="771.18" stroke="#333" stroke-width="0.8"/>
<line x1="404.20" y1="761.32" x2="405.70" y2="761.32" stroke="#333" stroke-width="0.8"/>
<line x1="404.20" y1="751.46" x2="405.70" y2="751.46" stroke="#333" stroke-width="0.8"/>
<polygon points="461.50,790.70 461.50,790.70 461.90,786.34 462.30,782.71 462.70,778.70 463.20,775.54 463.70,771.63 464.20,767.83 464.70,764.36 465.20,760.70 465.82,757.52 466.45,755.06 467.07,751.40 467.70,748.70 469.70,745.70 470.95,746.84 472.20,747.70 473.45,750.06 474.70,752.70 475.70,756.24 476.70,760.12 477.70,763.70 478.45,766.81 479.20,769.41 479.95,772.26 480.70,775.70 481.70,778.42 482.70,781.63 483.70,784.70 485.20,787.16 486.70,789.20 486.70,789.74 488.20,788.83 489.70,789.10 491.20,788.97 492.70,789.47 494.20,789.19 495.70,788.82 497.20,788.97 498.70,789.20 500.20,789.49 501.70,789.37 503.20,788.91 504.70,789.42 506.20,789.12 507.70,789.20 508.50,789.30 508.50,790.70" fill="#000" stroke="none" stroke-width="0" stroke-linejoin="miter"/>
<polyline points="473.20,748.70 474.45,750.05 475.70,752.20 476.53,754.23 477.37,757.08 478.20,759.20 479.03,762.70 479.87,765.44 480.70,768.20 481.53,771.61 482.37,774.78 483.20,778.20 484.03,780.38 484.87,782.81 485.70,785.70 486.95,788.16 488.20,789.70" fill="none" stroke="#000" stroke-width="1.3" stroke-linejoin="round"/>
<rect x="460.70" y="742.60" width="49.30" height="49.30" fill="none" stroke="#000" stroke-width="1.3"/>
<line x1="459.20" y1="781.04" x2="460.70" y2="781.04" stroke="#333" stroke-width="0.8"/>
<line x1="459.20" y1="771.18" x2="460.70" y2="771.18" stroke="#333" stroke-width="0.8"/>
<line x1="459.20" y1="761.32" x2="460.70" y2="761.32" stroke="#333" stroke-width="0.8"/>
<line x1="459.20" y1="751.46" x2="460.70" y2="751.46" stroke="#333" stroke-width="0.8"/>
</svg>
</body></html>
